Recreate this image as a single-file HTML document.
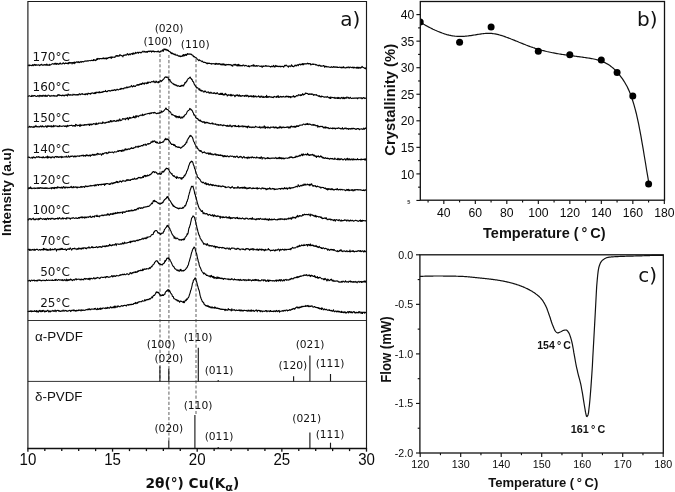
<!DOCTYPE html>
<html lang="en">
<head>
<meta charset="utf-8">
<title>XRD, crystallinity and DSC of PVDF</title>
<style>
html,body{margin:0;padding:0;background:#fff;}
body{width:675px;height:492px;overflow:hidden;}
svg{display:block;}
</style>
</head>
<body>
<svg width="675" height="492" viewBox="0 0 675 492">
<rect x="0" y="0" width="675" height="492" fill="#ffffff"/>
<g stroke="#858585" stroke-width="1.3" stroke-dasharray="3.1 2.0" fill="none">
<line x1="160.0" y1="54" x2="160.0" y2="381.4"/>
<line x1="168.9" y1="55" x2="168.9" y2="440"/>
<line x1="196.0" y1="59" x2="196.0" y2="415"/>
</g>
<g stroke="#000" stroke-width="1.1" fill="none" stroke-linejoin="round">
<polyline points="27.9,312.14 28.3,311.16 28.8,311.39 29.2,311.55 29.7,311.01 30.1,311.36 30.6,311.35 31.0,310.56 31.5,311.80 31.9,311.61 32.4,311.05 32.8,311.25 33.3,311.55 33.7,311.20 34.1,311.20 34.6,310.65 35.0,311.55 35.5,311.35 35.9,311.41 36.4,310.59 36.8,312.02 37.3,311.34 37.7,311.09 38.2,312.17 38.6,311.23 39.1,310.59 39.5,311.05 39.9,310.20 40.4,311.69 40.8,311.02 41.3,310.87 41.7,311.68 42.2,310.45 42.6,311.42 43.1,310.25 43.5,310.87 44.0,310.62 44.4,311.81 44.9,311.94 45.3,310.99 45.7,311.51 46.2,311.04 46.6,311.37 47.1,310.77 47.5,310.33 48.0,310.28 48.4,311.25 48.9,312.08 49.3,311.19 49.8,310.82 50.2,311.91 50.7,311.15 51.1,311.08 51.5,311.14 52.0,310.95 52.4,310.87 52.9,310.35 53.3,311.21 53.8,310.94 54.2,311.51 54.7,310.80 55.1,310.10 55.6,310.90 56.0,311.70 56.5,310.75 56.9,310.52 57.3,310.37 57.8,310.43 58.2,310.76 58.7,310.35 59.1,311.55 59.6,310.74 60.0,310.90 60.5,311.49 60.9,311.51 61.4,310.73 61.8,310.97 62.3,311.14 62.7,310.71 63.1,309.99 63.6,311.07 64.0,311.17 64.5,310.94 64.9,310.33 65.4,310.65 65.8,310.46 66.3,310.58 66.7,311.29 67.2,311.38 67.6,310.98 68.1,310.91 68.5,310.96 68.9,310.64 69.4,310.60 69.8,310.32 70.3,310.58 70.7,311.61 71.2,310.97 71.6,310.41 72.1,310.34 72.5,310.15 73.0,310.70 73.4,310.69 73.8,309.85 74.3,310.70 74.7,310.21 75.2,311.10 75.6,310.51 76.1,311.20 76.5,310.20 77.0,310.26 77.4,310.51 77.9,310.83 78.3,310.59 78.8,309.76 79.2,310.38 79.6,310.29 80.1,310.07 80.5,309.95 81.0,311.00 81.4,310.02 81.9,309.79 82.3,310.43 82.8,310.18 83.2,310.06 83.7,310.42 84.1,310.26 84.6,310.18 85.0,310.42 85.4,310.08 85.9,309.65 86.3,309.73 86.8,309.63 87.2,309.93 87.7,309.31 88.1,308.94 88.6,309.77 89.0,309.10 89.5,308.78 89.9,309.79 90.4,309.27 90.8,309.78 91.2,309.28 91.7,308.97 92.1,308.88 92.6,309.17 93.0,309.24 93.5,308.95 93.9,309.16 94.4,308.55 94.8,309.21 95.3,308.35 95.7,309.03 96.2,309.39 96.6,309.53 97.0,309.76 97.5,308.25 97.9,309.25 98.4,309.40 98.8,309.26 99.3,308.36 99.7,308.91 100.2,309.52 100.6,307.97 101.1,308.81 101.5,309.05 102.0,308.19 102.4,308.72 102.8,307.93 103.3,308.00 103.7,307.95 104.2,308.36 104.6,308.19 105.1,308.61 105.5,307.71 106.0,308.03 106.4,308.47 106.9,308.24 107.3,307.34 107.8,308.19 108.2,307.63 108.6,307.96 109.1,307.88 109.5,308.24 110.0,307.69 110.4,306.75 110.9,306.91 111.3,307.81 111.8,307.31 112.2,307.88 112.7,307.44 113.1,306.92 113.6,307.69 114.0,306.78 114.4,306.16 114.9,307.95 115.3,306.11 115.8,307.19 116.2,307.27 116.7,306.85 117.1,305.97 117.6,307.12 118.0,305.95 118.5,305.93 118.9,306.31 119.4,306.76 119.8,306.47 120.2,306.63 120.7,306.00 121.1,306.06 121.6,305.55 122.0,305.85 122.5,306.19 122.9,305.72 123.4,305.99 123.8,305.45 124.3,305.36 124.7,305.57 125.2,305.39 125.6,305.67 126.0,305.40 126.5,306.03 126.9,305.06 127.4,304.98 127.8,304.53 128.3,304.93 128.7,305.14 129.2,304.41 129.6,304.64 130.1,304.89 130.5,304.42 131.0,304.15 131.4,304.72 131.8,304.23 132.3,304.26 132.7,304.50 133.2,304.38 133.6,303.60 134.1,303.40 134.5,303.64 135.0,303.33 135.4,302.41 135.9,303.71 136.3,303.01 136.8,303.20 137.2,302.20 137.6,303.17 138.1,302.19 138.5,302.27 139.0,301.54 139.4,301.96 139.9,301.79 140.3,301.67 140.8,301.81 141.2,301.50 141.7,301.77 142.1,300.98 142.6,300.61 143.0,300.91 143.4,301.06 143.9,301.20 144.3,300.88 144.8,299.58 145.2,300.41 145.7,300.76 146.1,299.99 146.6,299.59 147.0,299.82 147.5,299.32 147.9,299.69 148.4,299.25 148.8,299.73 149.2,299.18 149.7,298.47 150.1,298.90 150.6,298.87 151.0,297.99 151.5,297.83 151.9,296.72 152.4,297.85 152.8,296.82 153.3,295.71 153.7,295.38 154.2,295.52 154.6,295.35 155.0,294.32 155.5,293.91 155.9,292.57 156.4,291.93 156.8,292.55 157.3,292.22 157.7,292.06 158.2,292.93 158.6,292.36 159.1,293.10 159.5,294.28 159.9,295.13 160.4,294.74 160.8,295.83 161.3,295.05 161.7,295.61 162.2,295.41 162.6,294.70 163.1,295.36 163.5,295.38 164.0,294.53 164.4,294.11 164.9,294.25 165.3,292.48 165.7,291.75 166.2,291.50 166.6,290.65 167.1,291.27 167.5,290.39 168.0,289.63 168.4,289.72 168.9,291.50 169.3,290.36 169.8,290.90 170.2,292.11 170.7,293.06 171.1,293.71 171.5,294.03 172.0,294.73 172.4,296.28 172.9,296.69 173.3,296.62 173.8,298.46 174.2,298.80 174.7,298.80 175.1,299.20 175.6,299.78 176.0,299.68 176.5,299.66 176.9,300.65 177.3,300.07 177.8,301.09 178.2,300.43 178.7,301.18 179.1,301.29 179.6,302.26 180.0,301.07 180.5,300.99 180.9,301.39 181.4,301.22 181.8,301.48 182.3,301.94 182.7,302.08 183.1,302.44 183.6,301.30 184.0,302.73 184.5,302.30 184.9,301.14 185.4,299.98 185.8,300.69 186.3,300.40 186.7,298.90 187.2,299.44 187.6,298.69 188.1,297.68 188.5,297.45 188.9,296.62 189.4,294.81 189.8,293.86 190.3,292.06 190.7,290.47 191.2,289.23 191.6,287.73 192.1,285.50 192.5,283.03 193.0,282.65 193.4,280.20 193.9,279.77 194.3,279.66 194.7,278.43 195.2,277.94 195.6,278.34 196.1,280.48 196.5,281.27 197.0,283.11 197.4,285.06 197.9,286.49 198.3,288.28 198.8,289.86 199.2,290.69 199.7,293.09 200.1,295.32 200.5,296.72 201.0,298.29 201.4,299.22 201.9,300.39 202.3,301.59 202.8,301.64 203.2,302.60 203.7,302.61 204.1,304.29 204.6,304.32 205.0,304.91 205.5,305.72 205.9,305.81 206.3,305.56 206.8,306.18 207.2,305.39 207.7,306.42 208.1,306.46 208.6,305.82 209.0,307.30 209.5,306.52 209.9,307.28 210.4,306.91 210.8,307.66 211.3,307.91 211.7,307.06 212.1,306.85 212.6,307.58 213.0,308.11 213.5,307.66 213.9,307.64 214.4,308.22 214.8,306.85 215.3,307.88 215.7,307.64 216.2,308.47 216.6,308.09 217.1,307.99 217.5,308.41 217.9,307.98 218.4,308.71 218.8,308.48 219.3,308.69 219.7,308.60 220.2,309.40 220.6,309.00 221.1,309.35 221.5,309.39 222.0,308.87 222.4,309.54 222.9,309.50 223.3,309.53 223.7,309.26 224.2,309.30 224.6,309.89 225.1,310.56 225.5,309.25 226.0,309.90 226.4,309.54 226.9,310.09 227.3,309.97 227.8,310.28 228.2,308.58 228.7,309.60 229.1,309.45 229.5,309.88 230.0,309.63 230.4,309.69 230.9,310.31 231.3,310.89 231.8,308.78 232.2,309.94 232.7,310.24 233.1,310.13 233.6,309.99 234.0,309.56 234.5,309.77 234.9,310.54 235.3,310.72 235.8,310.30 236.2,309.90 236.7,310.33 237.1,310.20 237.6,310.57 238.0,310.40 238.5,310.09 238.9,310.47 239.4,309.87 239.8,310.79 240.2,310.97 240.7,309.92 241.1,310.66 241.6,310.04 242.0,310.98 242.5,310.92 242.9,310.42 243.4,310.99 243.8,310.36 244.3,310.28 244.7,310.33 245.2,310.54 245.6,310.47 246.0,310.70 246.5,310.36 246.9,311.00 247.4,311.12 247.8,310.45 248.3,310.05 248.7,311.03 249.2,311.23 249.6,310.65 250.1,310.16 250.5,310.87 251.0,311.45 251.4,309.93 251.8,311.00 252.3,310.66 252.7,310.43 253.2,311.05 253.6,310.25 254.1,310.98 254.5,311.45 255.0,310.95 255.4,310.49 255.9,310.09 256.3,310.33 256.8,310.09 257.2,311.65 257.6,310.83 258.1,310.48 258.5,310.38 259.0,310.50 259.4,310.84 259.9,310.42 260.3,311.77 260.8,310.69 261.2,310.69 261.7,311.19 262.1,311.72 262.6,311.67 263.0,310.87 263.4,311.22 263.9,311.18 264.3,311.37 264.8,311.26 265.2,310.73 265.7,310.60 266.1,311.26 266.6,310.66 267.0,311.82 267.5,311.24 267.9,310.77 268.4,311.10 268.8,311.02 269.2,311.20 269.7,311.70 270.1,310.63 270.6,310.45 271.0,311.45 271.5,311.23 271.9,311.39 272.4,311.52 272.8,311.24 273.3,311.68 273.7,310.92 274.2,311.35 274.6,310.94 275.0,310.80 275.5,311.58 275.9,311.54 276.4,310.39 276.8,310.74 277.3,311.35 277.7,311.67 278.2,310.85 278.6,311.04 279.1,310.44 279.5,312.17 280.0,311.21 280.4,311.36 280.8,311.21 281.3,311.28 281.7,311.09 282.2,310.62 282.6,311.06 283.1,310.71 283.5,311.21 284.0,310.25 284.4,310.29 284.9,310.77 285.3,311.00 285.8,310.43 286.2,309.99 286.6,310.19 287.1,309.96 287.5,310.97 288.0,310.44 288.4,310.53 288.9,310.02 289.3,309.54 289.8,310.23 290.2,310.35 290.7,309.76 291.1,309.38 291.6,309.77 292.0,308.99 292.4,309.39 292.9,308.60 293.3,308.35 293.8,308.92 294.2,308.69 294.7,309.27 295.1,308.15 295.6,308.17 296.0,307.52 296.5,307.07 296.9,306.99 297.4,307.88 297.8,307.03 298.2,307.96 298.7,307.98 299.1,307.11 299.6,307.88 300.0,307.14 300.5,307.44 300.9,306.74 301.4,307.17 301.8,306.23 302.3,306.84 302.7,306.27 303.2,306.34 303.6,306.60 304.0,306.33 304.5,306.15 304.9,306.46 305.4,306.45 305.8,305.42 306.3,306.27 306.7,306.30 307.2,305.65 307.6,306.17 308.1,305.41 308.5,306.67 309.0,305.95 309.4,306.06 309.8,306.69 310.3,306.14 310.7,306.53 311.2,305.86 311.6,306.15 312.1,305.86 312.5,306.47 313.0,307.11 313.4,306.84 313.9,307.22 314.3,306.46 314.8,306.61 315.2,306.89 315.6,307.46 316.1,307.46 316.5,307.39 317.0,307.78 317.4,307.53 317.9,307.70 318.3,308.41 318.8,307.67 319.2,308.13 319.7,308.89 320.1,308.33 320.6,308.72 321.0,308.25 321.4,309.52 321.9,307.75 322.3,308.37 322.8,308.53 323.2,309.85 323.7,309.39 324.1,309.23 324.6,308.88 325.0,309.73 325.5,309.72 325.9,309.46 326.3,309.19 326.8,309.46 327.2,310.14 327.7,310.27 328.1,310.25 328.6,310.23 329.0,309.58 329.5,310.48 329.9,310.07 330.4,310.63 330.8,310.89 331.3,310.45 331.7,310.37 332.1,311.35 332.6,311.13 333.0,310.75 333.5,309.75 333.9,311.15 334.4,311.52 334.8,311.80 335.3,311.05 335.7,311.13 336.2,311.28 336.6,311.91 337.1,311.06 337.5,311.59 337.9,311.27 338.4,311.86 338.8,311.08 339.3,311.99 339.7,311.64 340.2,311.80 340.6,312.17 341.1,312.48 341.5,311.23 342.0,312.47 342.4,312.30 342.9,311.94 343.3,312.72 343.7,312.20 344.2,312.71 344.6,311.88 345.1,311.77 345.5,312.73 346.0,313.17 346.4,312.50 346.9,312.63 347.3,312.03 347.8,311.66 348.2,312.17 348.7,312.96 349.1,311.46 349.5,312.09 350.0,311.46 350.4,312.39 350.9,312.75 351.3,311.80 351.8,312.19 352.2,312.98 352.7,312.36 353.1,311.85 353.6,311.83 354.0,311.53 354.5,312.79 354.9,312.12 355.3,312.93 355.8,312.86 356.2,312.18 356.7,312.25 357.1,312.85 357.6,312.57 358.0,312.63 358.5,311.78 358.9,312.93 359.4,312.14 359.8,311.52 360.3,312.27 360.7,312.74 361.1,313.50 361.6,312.39 362.0,311.96 362.5,313.52 362.9,312.64 363.4,312.46 363.8,312.09 364.3,312.13 364.7,313.25 365.2,312.46 365.6,312.34 366.1,312.36 366.5,313.29"/>
<polyline points="27.9,280.36 28.3,280.91 28.8,280.74 29.2,280.72 29.7,280.22 30.1,280.90 30.6,281.33 31.0,280.57 31.5,280.18 31.9,280.01 32.4,280.67 32.8,280.45 33.3,280.52 33.7,280.57 34.1,279.89 34.6,280.90 35.0,280.65 35.5,280.50 35.9,280.64 36.4,280.94 36.8,280.54 37.3,280.13 37.7,281.03 38.2,280.30 38.6,280.16 39.1,279.78 39.5,280.48 39.9,280.00 40.4,280.23 40.8,280.66 41.3,280.46 41.7,280.90 42.2,280.57 42.6,280.24 43.1,280.27 43.5,280.18 44.0,280.69 44.4,280.40 44.9,280.20 45.3,280.75 45.7,280.41 46.2,280.15 46.6,279.67 47.1,280.54 47.5,280.44 48.0,280.35 48.4,280.12 48.9,279.93 49.3,280.20 49.8,280.39 50.2,280.22 50.7,280.21 51.1,280.05 51.5,280.40 52.0,280.35 52.4,279.90 52.9,280.57 53.3,280.57 53.8,280.57 54.2,280.14 54.7,280.10 55.1,279.66 55.6,280.51 56.0,279.20 56.5,279.97 56.9,279.99 57.3,280.52 57.8,280.12 58.2,279.68 58.7,279.46 59.1,279.76 59.6,280.13 60.0,280.10 60.5,279.97 60.9,279.74 61.4,279.94 61.8,280.48 62.3,279.52 62.7,280.02 63.1,280.72 63.6,280.23 64.0,279.77 64.5,280.26 64.9,279.61 65.4,279.94 65.8,280.63 66.3,280.77 66.7,279.13 67.2,280.21 67.6,280.75 68.1,279.62 68.5,279.97 68.9,280.52 69.4,279.60 69.8,280.01 70.3,279.77 70.7,278.92 71.2,279.92 71.6,279.67 72.1,280.16 72.5,280.67 73.0,280.02 73.4,279.53 73.8,279.88 74.3,279.75 74.7,280.11 75.2,278.98 75.6,279.09 76.1,278.67 76.5,279.85 77.0,279.55 77.4,279.25 77.9,279.19 78.3,279.24 78.8,279.06 79.2,279.31 79.6,279.21 80.1,280.04 80.5,279.54 81.0,279.00 81.4,279.08 81.9,279.86 82.3,279.49 82.8,279.40 83.2,279.56 83.7,279.92 84.1,278.63 84.6,278.81 85.0,278.33 85.4,279.30 85.9,278.88 86.3,278.71 86.8,278.64 87.2,279.25 87.7,278.84 88.1,278.63 88.6,279.40 89.0,278.32 89.5,278.19 89.9,279.88 90.4,278.51 90.8,278.39 91.2,278.27 91.7,278.49 92.1,278.86 92.6,278.81 93.0,278.67 93.5,278.26 93.9,277.67 94.4,278.42 94.8,278.93 95.3,278.68 95.7,278.08 96.2,278.47 96.6,277.89 97.0,277.99 97.5,277.42 97.9,277.78 98.4,277.94 98.8,277.75 99.3,278.13 99.7,278.58 100.2,278.28 100.6,277.50 101.1,277.26 101.5,277.24 102.0,277.05 102.4,277.45 102.8,277.58 103.3,277.42 103.7,277.38 104.2,277.31 104.6,277.13 105.1,276.80 105.5,277.86 106.0,277.51 106.4,276.57 106.9,276.52 107.3,276.61 107.8,276.84 108.2,277.34 108.6,277.17 109.1,277.14 109.5,277.09 110.0,277.05 110.4,276.82 110.9,276.64 111.3,276.32 111.8,275.53 112.2,276.20 112.7,277.01 113.1,275.90 113.6,275.80 114.0,276.48 114.4,275.99 114.9,275.68 115.3,276.53 115.8,276.05 116.2,276.04 116.7,275.38 117.1,275.79 117.6,275.67 118.0,275.79 118.5,275.89 118.9,275.81 119.4,275.31 119.8,275.47 120.2,274.58 120.7,275.31 121.1,275.25 121.6,274.70 122.0,274.45 122.5,274.70 122.9,274.11 123.4,274.73 123.8,274.63 124.3,274.00 124.7,274.37 125.2,274.75 125.6,274.66 126.0,274.56 126.5,273.96 126.9,273.79 127.4,273.68 127.8,274.04 128.3,274.75 128.7,274.24 129.2,274.23 129.6,274.03 130.1,272.61 130.5,273.15 131.0,272.96 131.4,273.62 131.8,273.71 132.3,272.55 132.7,272.76 133.2,272.89 133.6,272.31 134.1,272.13 134.5,271.99 135.0,272.58 135.4,271.65 135.9,272.45 136.3,271.85 136.8,272.02 137.2,272.25 137.6,271.12 138.1,270.92 138.5,271.35 139.0,270.56 139.4,270.56 139.9,270.71 140.3,270.70 140.8,269.93 141.2,270.19 141.7,270.49 142.1,270.70 142.6,269.09 143.0,270.43 143.4,270.11 143.9,269.09 144.3,268.79 144.8,269.51 145.2,269.00 145.7,269.12 146.1,269.31 146.6,268.63 147.0,268.73 147.5,268.73 147.9,268.77 148.4,269.02 148.8,268.84 149.2,268.02 149.7,267.63 150.1,268.60 150.6,267.60 151.0,267.25 151.5,266.27 151.9,266.76 152.4,265.65 152.8,265.32 153.3,264.38 153.7,264.15 154.2,263.77 154.6,262.40 155.0,262.04 155.5,261.84 155.9,260.90 156.4,260.70 156.8,260.92 157.3,260.90 157.7,262.21 158.2,261.99 158.6,263.30 159.1,263.88 159.5,263.37 159.9,264.29 160.4,264.33 160.8,264.21 161.3,264.63 161.7,264.64 162.2,264.92 162.6,264.81 163.1,263.50 163.5,263.37 164.0,263.26 164.4,262.94 164.9,260.64 165.3,261.59 165.7,260.21 166.2,260.27 166.6,258.75 167.1,258.06 167.5,258.14 168.0,258.57 168.4,258.23 168.9,257.59 169.3,259.58 169.8,259.33 170.2,260.49 170.7,261.32 171.1,261.94 171.5,263.09 172.0,264.05 172.4,264.99 172.9,265.96 173.3,266.47 173.8,266.52 174.2,267.61 174.7,268.57 175.1,268.95 175.6,268.92 176.0,269.44 176.5,269.82 176.9,270.26 177.3,270.62 177.8,269.89 178.2,270.07 178.7,270.99 179.1,271.14 179.6,271.23 180.0,269.56 180.5,270.57 180.9,269.24 181.4,271.05 181.8,270.75 182.3,270.71 182.7,270.57 183.1,271.13 183.6,270.28 184.0,270.71 184.5,270.27 184.9,269.89 185.4,269.58 185.8,268.98 186.3,267.90 186.7,268.07 187.2,267.31 187.6,266.04 188.1,265.42 188.5,264.34 188.9,262.06 189.4,261.15 189.8,259.46 190.3,257.60 190.7,256.43 191.2,254.15 191.6,252.60 192.1,251.26 192.5,249.84 193.0,248.64 193.4,248.67 193.9,247.04 194.3,247.47 194.7,247.38 195.2,249.13 195.6,250.79 196.1,252.44 196.5,253.41 197.0,255.46 197.4,258.06 197.9,259.33 198.3,261.61 198.8,262.44 199.2,265.08 199.7,266.36 200.1,267.42 200.5,268.02 201.0,269.35 201.4,270.40 201.9,271.25 202.3,271.78 202.8,272.33 203.2,273.03 203.7,274.03 204.1,272.89 204.6,273.51 205.0,273.73 205.5,274.38 205.9,274.14 206.3,275.39 206.8,275.37 207.2,275.39 207.7,275.36 208.1,275.89 208.6,276.04 209.0,276.24 209.5,275.89 209.9,276.63 210.4,275.79 210.8,277.12 211.3,275.28 211.7,276.50 212.1,276.32 212.6,277.31 213.0,276.38 213.5,277.96 213.9,276.53 214.4,278.22 214.8,277.60 215.3,277.49 215.7,277.75 216.2,278.62 216.6,278.11 217.1,276.78 217.5,278.39 217.9,278.03 218.4,277.27 218.8,278.41 219.3,277.59 219.7,278.28 220.2,278.37 220.6,278.03 221.1,278.68 221.5,277.99 222.0,278.59 222.4,278.31 222.9,278.53 223.3,279.53 223.7,278.77 224.2,278.27 224.6,278.76 225.1,278.51 225.5,278.91 226.0,279.01 226.4,279.01 226.9,279.05 227.3,278.80 227.8,279.28 228.2,279.59 228.7,278.87 229.1,279.15 229.5,279.23 230.0,279.80 230.4,279.75 230.9,278.96 231.3,279.35 231.8,278.67 232.2,278.93 232.7,279.40 233.1,279.70 233.6,279.87 234.0,279.32 234.5,278.88 234.9,279.69 235.3,279.45 235.8,279.74 236.2,279.64 236.7,279.92 237.1,279.91 237.6,280.01 238.0,279.45 238.5,280.12 238.9,279.47 239.4,279.75 239.8,280.57 240.2,279.91 240.7,279.24 241.1,280.45 241.6,280.25 242.0,280.33 242.5,279.92 242.9,280.00 243.4,279.76 243.8,279.56 244.3,280.58 244.7,279.74 245.2,279.71 245.6,279.74 246.0,280.79 246.5,280.36 246.9,279.82 247.4,279.98 247.8,280.24 248.3,280.42 248.7,279.32 249.2,280.46 249.6,279.97 250.1,279.77 250.5,279.92 251.0,280.46 251.4,280.91 251.8,280.20 252.3,280.40 252.7,279.79 253.2,280.39 253.6,280.55 254.1,279.53 254.5,279.98 255.0,280.58 255.4,279.44 255.9,280.08 256.3,280.53 256.8,279.51 257.2,280.11 257.6,280.32 258.1,280.71 258.5,279.75 259.0,280.83 259.4,280.49 259.9,280.90 260.3,280.90 260.8,280.54 261.2,280.62 261.7,279.63 262.1,279.82 262.6,279.99 263.0,280.30 263.4,280.89 263.9,279.68 264.3,280.35 264.8,279.92 265.2,279.82 265.7,281.20 266.1,280.60 266.6,281.30 267.0,281.11 267.5,280.17 267.9,279.77 268.4,281.54 268.8,280.44 269.2,280.12 269.7,280.96 270.1,280.72 270.6,280.36 271.0,280.52 271.5,280.75 271.9,280.72 272.4,281.03 272.8,280.54 273.3,280.55 273.7,280.97 274.2,280.84 274.6,281.19 275.0,280.58 275.5,280.64 275.9,280.16 276.4,281.34 276.8,280.03 277.3,280.73 277.7,280.21 278.2,280.74 278.6,280.90 279.1,279.80 279.5,280.41 280.0,279.68 280.4,281.07 280.8,280.20 281.3,279.65 281.7,280.01 282.2,280.87 282.6,280.91 283.1,280.77 283.5,279.80 284.0,280.04 284.4,280.80 284.9,279.69 285.3,279.82 285.8,279.48 286.2,279.33 286.6,280.34 287.1,280.02 287.5,279.88 288.0,279.87 288.4,280.00 288.9,280.14 289.3,279.38 289.8,279.14 290.2,278.74 290.7,279.59 291.1,278.77 291.6,278.22 292.0,278.66 292.4,278.67 292.9,278.92 293.3,278.86 293.8,277.95 294.2,277.79 294.7,277.87 295.1,277.33 295.6,277.69 296.0,277.82 296.5,277.50 296.9,276.62 297.4,276.68 297.8,277.67 298.2,276.52 298.7,277.19 299.1,277.02 299.6,276.48 300.0,276.07 300.5,276.50 300.9,275.91 301.4,276.12 301.8,276.15 302.3,275.68 302.7,275.81 303.2,275.68 303.6,275.18 304.0,275.58 304.5,275.31 304.9,274.71 305.4,275.33 305.8,275.31 306.3,275.14 306.7,274.46 307.2,275.73 307.6,275.69 308.1,275.69 308.5,275.57 309.0,274.89 309.4,275.55 309.8,275.13 310.3,276.60 310.7,275.45 311.2,276.06 311.6,275.14 312.1,275.39 312.5,275.77 313.0,276.42 313.4,276.44 313.9,276.42 314.3,275.55 314.8,277.00 315.2,276.17 315.6,277.42 316.1,277.64 316.5,277.28 317.0,277.47 317.4,276.57 317.9,278.42 318.3,277.47 318.8,277.95 319.2,277.24 319.7,277.72 320.1,277.34 320.6,277.90 321.0,278.14 321.4,278.37 321.9,279.01 322.3,278.73 322.8,278.74 323.2,278.77 323.7,279.77 324.1,278.72 324.6,279.62 325.0,278.31 325.5,278.90 325.9,279.57 326.3,279.41 326.8,280.93 327.2,280.82 327.7,279.06 328.1,279.35 328.6,279.85 329.0,280.78 329.5,280.58 329.9,280.30 330.4,279.59 330.8,279.92 331.3,279.17 331.7,279.76 332.1,280.71 332.6,280.95 333.0,280.07 333.5,280.78 333.9,281.52 334.4,280.93 334.8,280.77 335.3,281.24 335.7,281.26 336.2,281.11 336.6,280.88 337.1,280.98 337.5,281.26 337.9,281.01 338.4,281.89 338.8,281.73 339.3,281.85 339.7,282.30 340.2,282.12 340.6,282.08 341.1,281.63 341.5,281.39 342.0,282.53 342.4,281.21 342.9,281.26 343.3,281.16 343.7,281.66 344.2,281.77 344.6,282.06 345.1,281.51 345.5,280.84 346.0,281.78 346.4,282.09 346.9,281.68 347.3,281.62 347.8,281.94 348.2,282.35 348.7,281.68 349.1,281.09 349.5,281.48 350.0,281.67 350.4,280.95 350.9,282.11 351.3,281.43 351.8,282.02 352.2,281.89 352.7,281.67 353.1,282.55 353.6,281.57 354.0,281.53 354.5,281.98 354.9,282.23 355.3,281.86 355.8,281.43 356.2,282.19 356.7,282.15 357.1,282.82 357.6,281.80 358.0,282.00 358.5,281.65 358.9,281.24 359.4,281.95 359.8,282.31 360.3,281.47 360.7,281.63 361.1,281.41 361.6,282.54 362.0,281.66 362.5,282.21 362.9,281.56 363.4,281.99 363.8,281.67 364.3,280.90 364.7,281.99 365.2,282.20 365.6,281.02 366.1,281.88 366.5,281.77"/>
<polyline points="27.9,249.39 28.3,249.76 28.8,249.00 29.2,249.98 29.7,250.39 30.1,249.29 30.6,249.82 31.0,250.49 31.5,249.90 31.9,249.60 32.4,249.42 32.8,249.90 33.3,249.76 33.7,250.10 34.1,249.12 34.6,250.28 35.0,249.61 35.5,250.07 35.9,249.45 36.4,249.19 36.8,249.51 37.3,249.33 37.7,249.58 38.2,250.04 38.6,250.22 39.1,249.82 39.5,249.48 39.9,249.51 40.4,249.97 40.8,250.21 41.3,249.54 41.7,249.63 42.2,249.34 42.6,249.76 43.1,250.09 43.5,248.34 44.0,249.76 44.4,249.38 44.9,248.58 45.3,249.76 45.7,249.57 46.2,249.76 46.6,248.97 47.1,250.54 47.5,249.62 48.0,249.41 48.4,250.24 48.9,249.84 49.3,249.91 49.8,250.05 50.2,248.58 50.7,250.26 51.1,249.34 51.5,249.61 52.0,249.89 52.4,249.15 52.9,249.60 53.3,249.79 53.8,249.42 54.2,249.65 54.7,248.69 55.1,248.87 55.6,248.88 56.0,249.55 56.5,251.06 56.9,249.49 57.3,249.29 57.8,249.32 58.2,249.78 58.7,249.65 59.1,248.80 59.6,249.76 60.0,249.28 60.5,249.65 60.9,248.37 61.4,248.56 61.8,249.52 62.3,248.43 62.7,249.40 63.1,249.37 63.6,249.27 64.0,249.35 64.5,249.30 64.9,249.37 65.4,248.97 65.8,249.13 66.3,250.44 66.7,249.62 67.2,249.37 67.6,249.26 68.1,248.74 68.5,249.16 68.9,248.93 69.4,249.45 69.8,248.60 70.3,247.94 70.7,248.73 71.2,249.28 71.6,250.06 72.1,249.40 72.5,248.48 73.0,248.81 73.4,248.46 73.8,248.79 74.3,248.45 74.7,248.10 75.2,249.02 75.6,248.89 76.1,248.70 76.5,248.92 77.0,249.66 77.4,248.77 77.9,248.53 78.3,249.07 78.8,247.92 79.2,248.97 79.6,248.26 80.1,248.22 80.5,248.61 81.0,249.29 81.4,248.18 81.9,248.91 82.3,248.62 82.8,247.80 83.2,248.81 83.7,247.99 84.1,247.67 84.6,247.94 85.0,247.94 85.4,248.49 85.9,247.86 86.3,248.83 86.8,248.22 87.2,247.76 87.7,247.67 88.1,248.10 88.6,247.05 89.0,246.94 89.5,247.48 89.9,248.12 90.4,247.87 90.8,247.76 91.2,247.61 91.7,246.68 92.1,247.47 92.6,246.77 93.0,247.90 93.5,247.47 93.9,247.39 94.4,247.56 94.8,247.48 95.3,247.39 95.7,247.39 96.2,246.92 96.6,246.54 97.0,247.24 97.5,247.69 97.9,247.44 98.4,246.84 98.8,247.16 99.3,246.64 99.7,246.96 100.2,246.46 100.6,246.74 101.1,247.53 101.5,246.92 102.0,247.20 102.4,246.12 102.8,246.11 103.3,246.35 103.7,246.56 104.2,246.17 104.6,246.66 105.1,245.90 105.5,246.71 106.0,246.48 106.4,245.49 106.9,246.19 107.3,245.78 107.8,246.28 108.2,245.52 108.6,245.84 109.1,245.89 109.5,244.35 110.0,244.68 110.4,245.52 110.9,245.35 111.3,245.80 111.8,245.38 112.2,244.65 112.7,245.31 113.1,244.76 113.6,244.93 114.0,244.74 114.4,245.06 114.9,244.19 115.3,244.26 115.8,243.70 116.2,245.60 116.7,244.11 117.1,244.11 117.6,243.90 118.0,244.06 118.5,244.09 118.9,244.49 119.4,244.22 119.8,244.21 120.2,243.73 120.7,243.89 121.1,244.39 121.6,243.76 122.0,243.83 122.5,242.70 122.9,243.77 123.4,243.58 123.8,243.96 124.3,242.06 124.7,243.23 125.2,243.08 125.6,243.09 126.0,242.69 126.5,242.98 126.9,243.12 127.4,242.74 127.8,242.50 128.3,242.45 128.7,242.28 129.2,242.39 129.6,241.96 130.1,241.29 130.5,242.71 131.0,241.21 131.4,241.85 131.8,241.22 132.3,241.58 132.7,241.17 133.2,241.48 133.6,241.01 134.1,240.69 134.5,241.30 135.0,241.65 135.4,241.09 135.9,240.86 136.3,240.21 136.8,240.53 137.2,240.64 137.6,240.02 138.1,240.59 138.5,240.04 139.0,240.10 139.4,239.59 139.9,239.46 140.3,239.65 140.8,239.60 141.2,239.46 141.7,238.72 142.1,238.72 142.6,238.92 143.0,237.97 143.4,239.15 143.9,238.70 144.3,238.45 144.8,237.98 145.2,238.55 145.7,237.93 146.1,238.78 146.6,237.97 147.0,236.98 147.5,237.84 147.9,237.13 148.4,236.98 148.8,236.94 149.2,236.81 149.7,236.77 150.1,236.77 150.6,236.36 151.0,235.51 151.5,234.86 151.9,234.67 152.4,234.70 152.8,234.37 153.3,234.18 153.7,232.12 154.2,232.12 154.6,231.38 155.0,230.81 155.5,230.73 155.9,230.46 156.4,230.57 156.8,230.71 157.3,231.62 157.7,232.42 158.2,233.19 158.6,232.69 159.1,232.85 159.5,233.53 159.9,233.49 160.4,234.46 160.8,233.64 161.3,233.95 161.7,233.12 162.2,233.27 162.6,233.11 163.1,233.20 163.5,231.60 164.0,231.39 164.4,229.52 164.9,229.09 165.3,228.42 165.7,227.72 166.2,227.36 166.6,226.81 167.1,225.34 167.5,226.11 168.0,225.46 168.4,227.16 168.9,227.11 169.3,227.85 169.8,228.65 170.2,229.72 170.7,230.76 171.1,231.45 171.5,233.04 172.0,233.71 172.4,234.73 172.9,235.09 173.3,236.07 173.8,235.99 174.2,238.43 174.7,236.94 175.1,237.44 175.6,238.41 176.0,238.82 176.5,238.16 176.9,238.00 177.3,238.31 177.8,238.66 178.2,238.90 178.7,239.31 179.1,239.95 179.6,240.06 180.0,239.36 180.5,239.91 180.9,240.08 181.4,240.31 181.8,239.57 182.3,239.23 182.7,239.79 183.1,239.99 183.6,238.86 184.0,239.71 184.5,239.28 184.9,237.97 185.4,236.88 185.8,236.70 186.3,236.09 186.7,235.63 187.2,233.66 187.6,234.38 188.1,233.08 188.5,230.30 188.9,228.25 189.4,227.37 189.8,225.91 190.3,224.55 190.7,222.49 191.2,220.37 191.6,218.02 192.1,217.83 192.5,217.00 193.0,215.93 193.4,216.12 193.9,216.49 194.3,217.16 194.7,218.01 195.2,220.25 195.6,221.23 196.1,224.39 196.5,225.29 197.0,227.83 197.4,229.13 197.9,231.39 198.3,232.77 198.8,234.61 199.2,235.39 199.7,236.24 200.1,237.94 200.5,238.88 201.0,239.20 201.4,240.31 201.9,240.51 202.3,241.86 202.8,242.12 203.2,242.72 203.7,244.24 204.1,243.46 204.6,243.84 205.0,244.20 205.5,244.08 205.9,244.08 206.3,244.92 206.8,245.16 207.2,243.54 207.7,244.93 208.1,244.99 208.6,245.02 209.0,245.95 209.5,245.27 209.9,246.01 210.4,245.49 210.8,245.65 211.3,246.26 211.7,245.70 212.1,246.05 212.6,245.72 213.0,245.91 213.5,246.72 213.9,246.74 214.4,246.04 214.8,246.11 215.3,247.87 215.7,246.51 216.2,246.48 216.6,247.18 217.1,246.67 217.5,246.93 217.9,247.57 218.4,247.68 218.8,247.21 219.3,247.97 219.7,247.37 220.2,247.39 220.6,247.55 221.1,247.48 221.5,247.91 222.0,247.86 222.4,247.44 222.9,247.92 223.3,247.65 223.7,247.68 224.2,247.93 224.6,248.50 225.1,248.21 225.5,248.70 226.0,248.87 226.4,248.19 226.9,247.97 227.3,247.93 227.8,248.44 228.2,248.74 228.7,249.10 229.1,247.83 229.5,248.86 230.0,248.96 230.4,249.60 230.9,248.62 231.3,248.55 231.8,247.91 232.2,248.27 232.7,248.15 233.1,248.21 233.6,248.29 234.0,248.03 234.5,248.70 234.9,248.94 235.3,249.13 235.8,248.77 236.2,249.31 236.7,249.34 237.1,248.20 237.6,248.78 238.0,248.36 238.5,248.51 238.9,249.05 239.4,248.93 239.8,249.66 240.2,249.95 240.7,249.23 241.1,248.98 241.6,249.02 242.0,249.10 242.5,249.38 242.9,248.81 243.4,249.42 243.8,249.06 244.3,249.67 244.7,249.82 245.2,250.01 245.6,249.17 246.0,248.65 246.5,248.51 246.9,249.16 247.4,248.67 247.8,248.58 248.3,249.18 248.7,248.91 249.2,249.68 249.6,250.25 250.1,249.29 250.5,249.55 251.0,248.71 251.4,249.52 251.8,249.14 252.3,248.97 252.7,248.64 253.2,250.22 253.6,248.78 254.1,248.98 254.5,249.54 255.0,249.68 255.4,249.70 255.9,249.63 256.3,249.19 256.8,249.95 257.2,249.71 257.6,248.98 258.1,250.37 258.5,249.51 259.0,250.10 259.4,249.03 259.9,249.17 260.3,249.46 260.8,249.42 261.2,250.20 261.7,249.03 262.1,249.85 262.6,249.33 263.0,250.04 263.4,249.91 263.9,249.58 264.3,250.85 264.8,249.84 265.2,250.37 265.7,249.29 266.1,249.85 266.6,249.96 267.0,249.99 267.5,249.79 267.9,249.58 268.4,248.58 268.8,249.73 269.2,249.58 269.7,249.89 270.1,250.40 270.6,251.02 271.0,250.27 271.5,250.50 271.9,250.33 272.4,250.38 272.8,250.33 273.3,249.95 273.7,249.92 274.2,250.22 274.6,250.88 275.0,250.42 275.5,250.79 275.9,249.47 276.4,250.17 276.8,250.22 277.3,250.26 277.7,249.39 278.2,249.16 278.6,249.02 279.1,249.77 279.5,250.98 280.0,250.00 280.4,249.33 280.8,249.99 281.3,249.67 281.7,249.85 282.2,249.54 282.6,249.13 283.1,249.43 283.5,249.96 284.0,249.73 284.4,250.10 284.9,249.03 285.3,249.94 285.8,249.45 286.2,249.46 286.6,249.88 287.1,249.20 287.5,249.32 288.0,249.43 288.4,249.37 288.9,249.37 289.3,249.51 289.8,249.09 290.2,248.57 290.7,249.78 291.1,248.57 291.6,248.65 292.0,248.04 292.4,247.28 292.9,247.79 293.3,248.04 293.8,248.12 294.2,247.76 294.7,247.97 295.1,247.91 295.6,247.77 296.0,247.19 296.5,247.08 296.9,246.81 297.4,246.37 297.8,247.28 298.2,245.94 298.7,246.34 299.1,246.35 299.6,245.17 300.0,246.34 300.5,245.74 300.9,245.88 301.4,245.52 301.8,244.87 302.3,245.55 302.7,245.41 303.2,245.71 303.6,245.39 304.0,244.34 304.5,245.52 304.9,245.31 305.4,245.24 305.8,245.07 306.3,244.50 306.7,245.04 307.2,244.62 307.6,246.09 308.1,244.70 308.5,244.33 309.0,244.71 309.4,245.56 309.8,244.72 310.3,243.94 310.7,245.77 311.2,245.34 311.6,245.06 312.1,245.69 312.5,245.05 313.0,245.03 313.4,246.09 313.9,245.53 314.3,246.11 314.8,245.98 315.2,246.46 315.6,246.25 316.1,245.39 316.5,246.74 317.0,246.34 317.4,247.08 317.9,246.86 318.3,247.58 318.8,246.93 319.2,246.28 319.7,247.19 320.1,247.70 320.6,247.45 321.0,247.53 321.4,248.53 321.9,247.93 322.3,248.59 322.8,248.31 323.2,247.71 323.7,248.05 324.1,248.44 324.6,248.83 325.0,248.43 325.5,248.26 325.9,248.53 326.3,248.84 326.8,248.77 327.2,249.00 327.7,250.18 328.1,249.55 328.6,249.14 329.0,249.59 329.5,250.38 329.9,250.04 330.4,249.78 330.8,249.29 331.3,249.21 331.7,249.90 332.1,250.07 332.6,249.46 333.0,249.65 333.5,250.30 333.9,249.38 334.4,249.65 334.8,250.46 335.3,250.79 335.7,250.72 336.2,251.07 336.6,251.38 337.1,251.11 337.5,250.62 337.9,251.73 338.4,251.55 338.8,251.24 339.3,250.48 339.7,251.05 340.2,249.94 340.6,250.75 341.1,249.80 341.5,250.75 342.0,251.41 342.4,250.97 342.9,251.71 343.3,250.99 343.7,251.05 344.2,250.89 344.6,251.27 345.1,251.03 345.5,251.60 346.0,251.80 346.4,251.25 346.9,250.59 347.3,251.36 347.8,251.73 348.2,251.43 348.7,251.28 349.1,251.58 349.5,251.76 350.0,250.00 350.4,251.87 350.9,251.54 351.3,251.42 351.8,250.96 352.2,251.32 352.7,251.50 353.1,250.57 353.6,251.58 354.0,251.29 354.5,251.92 354.9,251.57 355.3,251.20 355.8,251.31 356.2,251.58 356.7,251.36 357.1,251.55 357.6,250.99 358.0,250.75 358.5,251.06 358.9,250.68 359.4,250.98 359.8,251.49 360.3,250.60 360.7,250.78 361.1,251.67 361.6,251.11 362.0,251.34 362.5,250.79 362.9,250.88 363.4,251.22 363.8,252.09 364.3,251.56 364.7,250.61 365.2,251.56 365.6,251.78 366.1,251.67 366.5,250.81"/>
<polyline points="27.9,219.12 28.3,220.11 28.8,218.73 29.2,219.29 29.7,218.80 30.1,218.56 30.6,218.93 31.0,219.59 31.5,219.64 31.9,218.72 32.4,218.89 32.8,218.70 33.3,218.16 33.7,219.36 34.1,219.78 34.6,219.75 35.0,218.86 35.5,219.66 35.9,219.54 36.4,218.89 36.8,219.04 37.3,218.87 37.7,219.13 38.2,219.83 38.6,218.59 39.1,218.46 39.5,219.39 39.9,219.01 40.4,218.13 40.8,218.51 41.3,218.59 41.7,218.68 42.2,219.09 42.6,219.38 43.1,218.85 43.5,218.98 44.0,218.57 44.4,219.36 44.9,219.49 45.3,218.76 45.7,218.54 46.2,219.79 46.6,219.27 47.1,218.44 47.5,218.07 48.0,218.69 48.4,219.35 48.9,218.56 49.3,218.68 49.8,218.56 50.2,219.07 50.7,219.39 51.1,218.19 51.5,218.61 52.0,218.64 52.4,218.44 52.9,218.17 53.3,219.07 53.8,218.76 54.2,219.00 54.7,219.35 55.1,218.49 55.6,218.89 56.0,218.45 56.5,218.58 56.9,218.76 57.3,218.53 57.8,217.91 58.2,219.26 58.7,218.63 59.1,218.04 59.6,217.55 60.0,218.52 60.5,218.81 60.9,218.96 61.4,219.00 61.8,218.31 62.3,218.76 62.7,217.76 63.1,218.51 63.6,218.84 64.0,218.14 64.5,218.33 64.9,218.43 65.4,218.43 65.8,219.03 66.3,217.86 66.7,218.93 67.2,217.75 67.6,218.00 68.1,217.93 68.5,218.23 68.9,218.03 69.4,218.45 69.8,218.22 70.3,219.19 70.7,218.36 71.2,218.05 71.6,218.32 72.1,218.40 72.5,218.03 73.0,217.59 73.4,217.71 73.8,218.14 74.3,218.41 74.7,218.23 75.2,217.96 75.6,218.23 76.1,217.73 76.5,218.05 77.0,218.55 77.4,218.39 77.9,218.48 78.3,217.67 78.8,217.91 79.2,217.34 79.6,218.18 80.1,217.55 80.5,217.11 81.0,217.46 81.4,217.76 81.9,216.62 82.3,216.95 82.8,218.00 83.2,217.56 83.7,217.46 84.1,216.72 84.6,218.12 85.0,217.83 85.4,217.65 85.9,216.79 86.3,217.51 86.8,217.72 87.2,217.02 87.7,217.01 88.1,216.86 88.6,217.30 89.0,216.88 89.5,216.79 89.9,216.23 90.4,216.09 90.8,217.21 91.2,217.45 91.7,217.08 92.1,217.28 92.6,216.34 93.0,216.51 93.5,216.65 93.9,216.35 94.4,217.13 94.8,215.72 95.3,216.01 95.7,216.05 96.2,215.84 96.6,216.48 97.0,215.15 97.5,216.50 97.9,216.34 98.4,216.02 98.8,216.45 99.3,216.82 99.7,215.79 100.2,215.98 100.6,215.77 101.1,215.77 101.5,215.25 102.0,215.09 102.4,215.63 102.8,215.07 103.3,215.66 103.7,215.54 104.2,214.93 104.6,215.23 105.1,215.04 105.5,214.89 106.0,215.40 106.4,214.85 106.9,214.87 107.3,213.83 107.8,214.91 108.2,213.93 108.6,214.34 109.1,215.17 109.5,215.19 110.0,214.14 110.4,213.69 110.9,214.36 111.3,213.94 111.8,214.20 112.2,213.37 112.7,214.41 113.1,214.54 113.6,213.12 114.0,213.35 114.4,213.31 114.9,213.88 115.3,212.59 115.8,213.50 116.2,213.23 116.7,212.90 117.1,213.50 117.6,212.23 118.0,212.41 118.5,212.60 118.9,213.19 119.4,212.64 119.8,212.34 120.2,212.85 120.7,212.34 121.1,212.19 121.6,212.26 122.0,212.47 122.5,213.45 122.9,211.66 123.4,212.19 123.8,211.92 124.3,211.79 124.7,212.50 125.2,212.08 125.6,211.95 126.0,211.36 126.5,211.10 126.9,211.52 127.4,211.17 127.8,210.96 128.3,211.43 128.7,210.50 129.2,210.62 129.6,211.21 130.1,210.73 130.5,210.97 131.0,210.19 131.4,210.80 131.8,210.06 132.3,210.89 132.7,210.54 133.2,210.29 133.6,210.66 134.1,210.02 134.5,209.47 135.0,210.35 135.4,209.69 135.9,209.97 136.3,209.38 136.8,209.72 137.2,208.69 137.6,208.39 138.1,208.21 138.5,209.07 139.0,207.72 139.4,207.69 139.9,207.73 140.3,208.36 140.8,208.33 141.2,207.65 141.7,208.26 142.1,207.93 142.6,208.22 143.0,207.98 143.4,207.13 143.9,207.42 144.3,207.14 144.8,207.31 145.2,207.07 145.7,206.87 146.1,207.06 146.6,206.64 147.0,206.81 147.5,206.35 147.9,206.11 148.4,206.43 148.8,206.26 149.2,206.18 149.7,205.66 150.1,205.00 150.6,204.86 151.0,204.46 151.5,203.17 151.9,202.98 152.4,203.65 152.8,202.40 153.3,200.61 153.7,201.35 154.2,201.08 154.6,200.22 155.0,201.75 155.5,201.36 155.9,201.51 156.4,201.44 156.8,202.17 157.3,202.76 157.7,203.00 158.2,202.83 158.6,203.49 159.1,203.66 159.5,203.86 159.9,203.31 160.4,203.87 160.8,203.64 161.3,203.56 161.7,203.29 162.2,202.21 162.6,202.83 163.1,202.29 163.5,200.80 164.0,200.75 164.4,199.76 164.9,199.27 165.3,199.26 165.7,198.44 166.2,198.59 166.6,197.39 167.1,196.70 167.5,197.34 168.0,196.50 168.4,198.90 168.9,198.87 169.3,199.71 169.8,200.39 170.2,200.75 170.7,201.88 171.1,202.35 171.5,203.19 172.0,204.22 172.4,204.13 172.9,205.94 173.3,205.20 173.8,206.47 174.2,206.19 174.7,206.25 175.1,207.28 175.6,207.44 176.0,207.49 176.5,207.78 176.9,207.71 177.3,208.34 177.8,208.07 178.2,208.41 178.7,209.00 179.1,207.98 179.6,208.37 180.0,208.35 180.5,208.29 180.9,208.01 181.4,208.43 181.8,208.51 182.3,208.24 182.7,207.36 183.1,208.11 183.6,207.78 184.0,207.07 184.5,206.07 184.9,205.51 185.4,206.02 185.8,205.06 186.3,203.51 186.7,201.76 187.2,201.47 187.6,199.59 188.1,198.76 188.5,196.15 188.9,194.95 189.4,192.96 189.8,191.73 190.3,189.56 190.7,188.88 191.2,187.21 191.6,186.25 192.1,186.61 192.5,186.62 193.0,186.19 193.4,188.14 193.9,189.56 194.3,191.20 194.7,193.78 195.2,194.40 195.6,196.52 196.1,197.57 196.5,199.40 197.0,201.41 197.4,203.11 197.9,204.45 198.3,206.06 198.8,207.22 199.2,208.32 199.7,208.66 200.1,209.71 200.5,209.83 201.0,210.89 201.4,211.44 201.9,211.43 202.3,210.59 202.8,212.07 203.2,213.81 203.7,212.87 204.1,212.86 204.6,213.41 205.0,214.05 205.5,213.88 205.9,213.80 206.3,213.47 206.8,214.05 207.2,213.79 207.7,214.61 208.1,215.25 208.6,215.16 209.0,214.53 209.5,214.46 209.9,214.38 210.4,215.30 210.8,215.46 211.3,215.65 211.7,215.53 212.1,214.93 212.6,214.69 213.0,216.14 213.5,215.34 213.9,216.65 214.4,214.93 214.8,215.46 215.3,215.61 215.7,216.22 216.2,216.48 216.6,216.00 217.1,216.59 217.5,215.81 217.9,216.24 218.4,215.98 218.8,216.34 219.3,216.37 219.7,216.86 220.2,218.33 220.6,216.23 221.1,216.82 221.5,217.27 222.0,217.05 222.4,217.71 222.9,216.67 223.3,217.53 223.7,216.88 224.2,217.65 224.6,217.40 225.1,217.48 225.5,217.15 226.0,216.63 226.4,217.00 226.9,217.86 227.3,217.46 227.8,217.94 228.2,217.05 228.7,217.97 229.1,218.17 229.5,216.75 230.0,217.92 230.4,218.68 230.9,217.50 231.3,218.31 231.8,217.91 232.2,218.31 232.7,217.78 233.1,217.63 233.6,217.81 234.0,217.87 234.5,217.79 234.9,217.69 235.3,218.60 235.8,217.87 236.2,217.61 236.7,217.76 237.1,218.42 237.6,217.22 238.0,218.47 238.5,218.59 238.9,218.87 239.4,218.12 239.8,217.97 240.2,218.43 240.7,218.44 241.1,218.99 241.6,218.44 242.0,218.25 242.5,217.86 242.9,218.38 243.4,218.53 243.8,219.04 244.3,218.58 244.7,219.16 245.2,219.13 245.6,218.24 246.0,218.09 246.5,218.34 246.9,218.53 247.4,218.29 247.8,218.99 248.3,218.99 248.7,219.25 249.2,218.85 249.6,218.54 250.1,218.94 250.5,218.36 251.0,218.85 251.4,218.46 251.8,219.34 252.3,217.63 252.7,219.23 253.2,219.26 253.6,218.86 254.1,219.04 254.5,219.00 255.0,219.50 255.4,219.68 255.9,218.96 256.3,219.70 256.8,218.69 257.2,219.18 257.6,219.21 258.1,218.46 258.5,219.18 259.0,218.75 259.4,219.42 259.9,218.68 260.3,218.30 260.8,218.53 261.2,219.13 261.7,219.28 262.1,219.31 262.6,218.83 263.0,219.54 263.4,218.95 263.9,219.12 264.3,219.67 264.8,219.17 265.2,218.42 265.7,219.60 266.1,219.29 266.6,219.13 267.0,219.90 267.5,219.05 267.9,219.64 268.4,219.42 268.8,220.54 269.2,218.57 269.7,219.48 270.1,219.56 270.6,219.91 271.0,219.23 271.5,219.15 271.9,220.06 272.4,219.25 272.8,219.58 273.3,219.43 273.7,219.63 274.2,218.85 274.6,219.22 275.0,219.44 275.5,219.51 275.9,219.95 276.4,219.68 276.8,219.70 277.3,219.41 277.7,219.99 278.2,219.14 278.6,219.36 279.1,218.72 279.5,218.90 280.0,219.74 280.4,219.31 280.8,218.48 281.3,219.27 281.7,219.17 282.2,218.74 282.6,219.37 283.1,219.08 283.5,219.17 284.0,219.57 284.4,218.83 284.9,219.57 285.3,218.93 285.8,218.90 286.2,219.56 286.6,219.11 287.1,218.71 287.5,218.80 288.0,218.90 288.4,218.10 288.9,218.99 289.3,218.63 289.8,217.99 290.2,218.07 290.7,218.81 291.1,217.78 291.6,219.22 292.0,217.69 292.4,218.16 292.9,216.82 293.3,217.83 293.8,217.51 294.2,217.84 294.7,217.58 295.1,217.21 295.6,218.19 296.0,217.44 296.5,216.62 296.9,216.97 297.4,215.38 297.8,216.27 298.2,216.96 298.7,216.02 299.1,216.20 299.6,215.49 300.0,216.24 300.5,215.82 300.9,215.65 301.4,215.96 301.8,216.17 302.3,215.69 302.7,214.45 303.2,215.31 303.6,215.15 304.0,214.44 304.5,214.15 304.9,214.62 305.4,214.61 305.8,214.67 306.3,214.33 306.7,214.71 307.2,214.76 307.6,214.50 308.1,214.82 308.5,214.41 309.0,214.00 309.4,214.76 309.8,215.21 310.3,216.10 310.7,214.00 311.2,214.82 311.6,214.74 312.1,215.34 312.5,214.92 313.0,215.47 313.4,215.96 313.9,215.29 314.3,215.70 314.8,216.57 315.2,216.36 315.6,215.35 316.1,217.13 316.5,216.01 317.0,216.58 317.4,216.39 317.9,216.50 318.3,216.53 318.8,217.25 319.2,216.75 319.7,216.67 320.1,217.11 320.6,217.49 321.0,216.72 321.4,218.10 321.9,217.54 322.3,218.30 322.8,218.71 323.2,218.34 323.7,218.54 324.1,218.19 324.6,218.19 325.0,217.73 325.5,218.59 325.9,218.52 326.3,217.78 326.8,219.06 327.2,219.70 327.7,219.28 328.1,219.70 328.6,219.14 329.0,218.87 329.5,219.44 329.9,219.32 330.4,219.04 330.8,220.08 331.3,219.75 331.7,219.44 332.1,219.88 332.6,219.78 333.0,220.18 333.5,220.66 333.9,219.71 334.4,219.49 334.8,220.69 335.3,221.18 335.7,219.85 336.2,219.74 336.6,219.64 337.1,220.20 337.5,220.27 337.9,220.12 338.4,220.63 338.8,219.90 339.3,220.02 339.7,219.73 340.2,220.93 340.6,220.81 341.1,220.92 341.5,219.97 342.0,220.96 342.4,220.51 342.9,220.71 343.3,220.66 343.7,220.27 344.2,220.35 344.6,219.74 345.1,220.20 345.5,220.35 346.0,219.95 346.4,220.52 346.9,221.06 347.3,220.27 347.8,220.07 348.2,220.13 348.7,220.61 349.1,221.32 349.5,220.62 350.0,220.58 350.4,220.00 350.9,220.72 351.3,220.86 351.8,220.40 352.2,220.58 352.7,220.30 353.1,220.93 353.6,221.21 354.0,220.79 354.5,220.85 354.9,220.65 355.3,220.35 355.8,220.29 356.2,220.46 356.7,220.70 357.1,220.65 357.6,221.11 358.0,220.99 358.5,221.33 358.9,221.02 359.4,220.57 359.8,220.72 360.3,219.95 360.7,221.43 361.1,220.43 361.6,220.51 362.0,221.51 362.5,220.21 362.9,220.42 363.4,220.67 363.8,220.44 364.3,220.74 364.7,220.81 365.2,220.99 365.6,220.66 366.1,221.02 366.5,220.56"/>
<polyline points="27.9,188.65 28.3,188.90 28.8,187.59 29.2,188.26 29.7,188.44 30.1,187.51 30.6,186.98 31.0,188.49 31.5,188.05 31.9,188.68 32.4,188.32 32.8,188.32 33.3,188.16 33.7,188.35 34.1,187.90 34.6,188.06 35.0,188.64 35.5,188.17 35.9,188.50 36.4,188.26 36.8,188.11 37.3,187.82 37.7,188.62 38.2,187.86 38.6,188.39 39.1,187.52 39.5,188.33 39.9,188.37 40.4,187.91 40.8,187.46 41.3,188.10 41.7,188.21 42.2,187.92 42.6,187.84 43.1,188.54 43.5,188.08 44.0,187.93 44.4,188.49 44.9,188.09 45.3,187.78 45.7,188.47 46.2,187.91 46.6,188.47 47.1,187.75 47.5,188.18 48.0,188.58 48.4,188.22 48.9,188.23 49.3,188.20 49.8,188.37 50.2,188.01 50.7,188.17 51.1,187.85 51.5,188.81 52.0,187.54 52.4,188.29 52.9,187.48 53.3,188.14 53.8,188.48 54.2,187.39 54.7,188.65 55.1,187.43 55.6,187.48 56.0,187.98 56.5,187.33 56.9,188.24 57.3,188.02 57.8,186.57 58.2,187.14 58.7,187.44 59.1,187.93 59.6,187.26 60.0,187.40 60.5,187.98 60.9,187.25 61.4,187.81 61.8,187.06 62.3,188.10 62.7,188.27 63.1,187.11 63.6,186.56 64.0,186.85 64.5,188.01 64.9,187.31 65.4,188.02 65.8,186.94 66.3,187.10 66.7,187.45 67.2,187.96 67.6,187.37 68.1,186.99 68.5,187.57 68.9,187.45 69.4,187.62 69.8,187.30 70.3,187.09 70.7,187.36 71.2,186.23 71.6,187.43 72.1,187.84 72.5,187.52 73.0,186.83 73.4,186.55 73.8,187.80 74.3,186.96 74.7,187.08 75.2,187.25 75.6,186.86 76.1,187.12 76.5,187.75 77.0,186.84 77.4,187.89 77.9,187.18 78.3,187.13 78.8,187.38 79.2,187.35 79.6,187.38 80.1,187.13 80.5,186.60 81.0,187.55 81.4,186.73 81.9,186.39 82.3,187.13 82.8,186.99 83.2,186.65 83.7,186.66 84.1,186.85 84.6,187.41 85.0,186.48 85.4,185.92 85.9,186.18 86.3,186.62 86.8,186.27 87.2,186.02 87.7,186.59 88.1,186.55 88.6,186.09 89.0,186.26 89.5,185.80 89.9,185.77 90.4,185.84 90.8,185.34 91.2,186.04 91.7,185.81 92.1,185.57 92.6,185.79 93.0,185.75 93.5,185.30 93.9,185.32 94.4,185.18 94.8,186.07 95.3,184.67 95.7,185.33 96.2,185.68 96.6,184.77 97.0,184.77 97.5,184.70 97.9,184.28 98.4,185.54 98.8,184.85 99.3,184.41 99.7,184.55 100.2,184.85 100.6,184.57 101.1,184.26 101.5,184.82 102.0,184.14 102.4,184.30 102.8,184.49 103.3,184.04 103.7,184.33 104.2,183.95 104.6,185.36 105.1,183.94 105.5,184.36 106.0,183.62 106.4,183.44 106.9,183.82 107.3,183.65 107.8,183.59 108.2,183.67 108.6,184.01 109.1,184.40 109.5,184.38 110.0,183.44 110.4,184.16 110.9,184.03 111.3,182.93 111.8,182.92 112.2,183.02 112.7,183.87 113.1,182.86 113.6,182.74 114.0,183.39 114.4,182.62 114.9,182.56 115.3,182.82 115.8,182.56 116.2,181.33 116.7,181.77 117.1,182.56 117.6,181.53 118.0,182.64 118.5,181.98 118.9,182.05 119.4,181.98 119.8,180.98 120.2,181.38 120.7,181.15 121.1,181.64 121.6,182.13 122.0,181.27 122.5,181.32 122.9,180.34 123.4,180.96 123.8,180.93 124.3,180.87 124.7,181.14 125.2,181.41 125.6,180.70 126.0,180.79 126.5,179.84 126.9,180.71 127.4,180.37 127.8,179.49 128.3,180.33 128.7,179.80 129.2,180.45 129.6,180.12 130.1,179.86 130.5,180.49 131.0,179.56 131.4,179.40 131.8,179.45 132.3,179.39 132.7,178.86 133.2,179.39 133.6,179.22 134.1,178.69 134.5,178.12 135.0,179.24 135.4,179.18 135.9,178.88 136.3,178.81 136.8,179.06 137.2,178.29 137.6,178.76 138.1,177.85 138.5,177.41 139.0,177.70 139.4,177.43 139.9,177.68 140.3,178.16 140.8,177.42 141.2,177.59 141.7,177.97 142.1,177.71 142.6,176.85 143.0,176.40 143.4,177.55 143.9,176.02 144.3,175.58 144.8,175.40 145.2,176.71 145.7,175.43 146.1,175.87 146.6,175.81 147.0,176.34 147.5,175.01 147.9,175.51 148.4,175.47 148.8,175.79 149.2,174.86 149.7,174.86 150.1,174.35 150.6,174.66 151.0,174.25 151.5,173.28 151.9,173.31 152.4,172.00 152.8,172.31 153.3,171.54 153.7,171.51 154.2,172.03 154.6,172.57 155.0,171.84 155.5,171.93 155.9,172.15 156.4,172.95 156.8,172.84 157.3,173.63 157.7,174.12 158.2,173.89 158.6,173.56 159.1,174.15 159.5,173.52 159.9,173.01 160.4,174.22 160.8,174.42 161.3,173.96 161.7,172.94 162.2,171.27 162.6,172.09 163.1,172.28 163.5,171.35 164.0,171.65 164.4,170.13 164.9,170.20 165.3,169.58 165.7,169.18 166.2,168.12 166.6,168.54 167.1,168.72 167.5,168.61 168.0,168.57 168.4,169.43 168.9,169.80 169.3,171.03 169.8,171.96 170.2,172.33 170.7,172.98 171.1,173.33 171.5,174.05 172.0,173.60 172.4,174.97 172.9,175.76 173.3,175.50 173.8,176.39 174.2,175.70 174.7,176.68 175.1,176.82 175.6,177.34 176.0,177.40 176.5,178.52 176.9,176.25 177.3,177.18 177.8,177.66 178.2,178.11 178.7,177.87 179.1,177.92 179.6,177.56 180.0,177.67 180.5,177.88 180.9,178.91 181.4,177.78 181.8,179.26 182.3,178.32 182.7,177.48 183.1,177.68 183.6,177.41 184.0,175.95 184.5,175.22 184.9,175.98 185.4,174.14 185.8,174.12 186.3,173.08 186.7,170.95 187.2,170.84 187.6,169.57 188.1,168.59 188.5,166.66 188.9,165.56 189.4,164.27 189.8,162.85 190.3,162.76 190.7,161.78 191.2,161.69 191.6,161.18 192.1,161.93 192.5,161.70 193.0,162.87 193.4,164.83 193.9,165.65 194.3,167.03 194.7,168.76 195.2,169.43 195.6,171.63 196.1,173.11 196.5,173.99 197.0,174.76 197.4,177.10 197.9,177.44 198.3,177.61 198.8,178.54 199.2,178.73 199.7,179.24 200.1,179.65 200.5,180.57 201.0,181.52 201.4,181.99 201.9,181.90 202.3,182.67 202.8,182.69 203.2,182.13 203.7,182.46 204.1,183.14 204.6,183.48 205.0,183.81 205.5,182.84 205.9,182.71 206.3,184.63 206.8,183.71 207.2,184.40 207.7,184.07 208.1,183.53 208.6,184.89 209.0,184.57 209.5,185.11 209.9,184.81 210.4,184.18 210.8,184.69 211.3,185.24 211.7,184.56 212.1,185.03 212.6,185.55 213.0,184.54 213.5,185.01 213.9,185.33 214.4,185.75 214.8,185.35 215.3,185.14 215.7,185.78 216.2,185.32 216.6,185.85 217.1,185.89 217.5,185.71 217.9,186.25 218.4,186.46 218.8,185.40 219.3,186.28 219.7,186.03 220.2,186.03 220.6,186.26 221.1,186.81 221.5,186.27 222.0,186.25 222.4,185.88 222.9,186.42 223.3,186.55 223.7,186.16 224.2,186.51 224.6,186.90 225.1,187.36 225.5,186.65 226.0,187.72 226.4,187.31 226.9,187.29 227.3,187.20 227.8,187.02 228.2,186.73 228.7,187.01 229.1,187.10 229.5,187.18 230.0,187.84 230.4,188.07 230.9,187.45 231.3,187.69 231.8,186.95 232.2,186.40 232.7,187.28 233.1,187.46 233.6,188.01 234.0,188.49 234.5,187.55 234.9,188.05 235.3,187.98 235.8,187.61 236.2,187.91 236.7,187.73 237.1,188.28 237.6,187.13 238.0,186.59 238.5,187.71 238.9,188.09 239.4,188.17 239.8,187.47 240.2,187.99 240.7,187.47 241.1,188.09 241.6,187.47 242.0,187.35 242.5,188.27 242.9,187.30 243.4,187.23 243.8,188.26 244.3,187.97 244.7,186.90 245.2,188.50 245.6,187.43 246.0,187.80 246.5,187.97 246.9,188.94 247.4,188.04 247.8,188.48 248.3,188.03 248.7,188.34 249.2,187.49 249.6,188.14 250.1,187.88 250.5,187.72 251.0,188.32 251.4,188.67 251.8,188.44 252.3,188.10 252.7,188.58 253.2,187.77 253.6,188.43 254.1,188.53 254.5,188.28 255.0,188.22 255.4,188.40 255.9,188.10 256.3,188.28 256.8,188.72 257.2,187.54 257.6,188.98 258.1,188.64 258.5,188.54 259.0,188.01 259.4,188.29 259.9,188.22 260.3,188.81 260.8,188.80 261.2,189.05 261.7,188.58 262.1,187.66 262.6,188.15 263.0,188.43 263.4,188.76 263.9,187.95 264.3,188.55 264.8,188.68 265.2,188.40 265.7,188.59 266.1,189.71 266.6,188.70 267.0,189.61 267.5,188.84 267.9,188.43 268.4,189.01 268.8,188.59 269.2,188.75 269.7,187.79 270.1,188.96 270.6,188.55 271.0,189.33 271.5,188.88 271.9,188.66 272.4,188.37 272.8,188.85 273.3,188.68 273.7,188.50 274.2,189.69 274.6,188.79 275.0,189.25 275.5,189.51 275.9,189.03 276.4,189.13 276.8,189.07 277.3,189.27 277.7,189.09 278.2,189.05 278.6,188.87 279.1,188.59 279.5,188.60 280.0,188.49 280.4,188.85 280.8,189.33 281.3,188.31 281.7,188.44 282.2,188.26 282.6,188.65 283.1,189.12 283.5,188.49 284.0,188.75 284.4,187.56 284.9,188.51 285.3,188.76 285.8,188.25 286.2,187.77 286.6,188.67 287.1,188.38 287.5,189.21 288.0,188.10 288.4,188.25 288.9,188.11 289.3,188.27 289.8,187.37 290.2,188.73 290.7,188.34 291.1,187.89 291.6,187.76 292.0,188.08 292.4,187.93 292.9,187.49 293.3,187.51 293.8,187.64 294.2,187.19 294.7,187.13 295.1,186.97 295.6,186.87 296.0,186.33 296.5,186.36 296.9,186.82 297.4,186.87 297.8,186.37 298.2,184.67 298.7,185.47 299.1,186.19 299.6,186.63 300.0,186.30 300.5,185.55 300.9,185.38 301.4,185.23 301.8,186.09 302.3,185.32 302.7,184.71 303.2,185.44 303.6,185.30 304.0,183.95 304.5,184.49 304.9,185.16 305.4,185.05 305.8,184.05 306.3,184.57 306.7,184.94 307.2,184.69 307.6,184.07 308.1,184.47 308.5,184.88 309.0,184.84 309.4,184.24 309.8,185.77 310.3,184.89 310.7,184.20 311.2,184.80 311.6,183.82 312.1,184.82 312.5,185.20 313.0,186.38 313.4,185.50 313.9,185.69 314.3,185.97 314.8,185.83 315.2,185.59 315.6,186.57 316.1,186.32 316.5,186.89 317.0,186.79 317.4,186.05 317.9,186.39 318.3,186.54 318.8,186.67 319.2,187.17 319.7,187.02 320.1,186.87 320.6,187.99 321.0,188.06 321.4,187.58 321.9,187.20 322.3,187.50 322.8,187.54 323.2,187.58 323.7,187.64 324.1,188.26 324.6,188.38 325.0,188.52 325.5,188.00 325.9,188.63 326.3,189.45 326.8,188.76 327.2,188.56 327.7,190.01 328.1,189.02 328.6,188.67 329.0,189.41 329.5,188.77 329.9,188.98 330.4,189.65 330.8,188.99 331.3,188.65 331.7,189.67 332.1,189.77 332.6,188.83 333.0,189.32 333.5,189.99 333.9,189.65 334.4,189.94 334.8,189.54 335.3,189.34 335.7,189.39 336.2,189.52 336.6,189.75 337.1,188.50 337.5,188.86 337.9,189.72 338.4,190.02 338.8,189.45 339.3,189.76 339.7,189.29 340.2,189.17 340.6,189.86 341.1,189.77 341.5,189.59 342.0,189.25 342.4,189.87 342.9,189.82 343.3,189.74 343.7,189.81 344.2,189.71 344.6,190.11 345.1,190.07 345.5,190.68 346.0,190.53 346.4,189.90 346.9,189.39 347.3,190.21 347.8,189.68 348.2,190.62 348.7,189.30 349.1,189.77 349.5,190.64 350.0,189.98 350.4,190.30 350.9,190.28 351.3,189.78 351.8,190.37 352.2,189.63 352.7,189.87 353.1,190.95 353.6,189.94 354.0,190.19 354.5,189.57 354.9,190.63 355.3,189.64 355.8,189.72 356.2,189.79 356.7,189.64 357.1,189.44 357.6,189.94 358.0,189.85 358.5,190.03 358.9,189.64 359.4,189.68 359.8,189.94 360.3,190.08 360.7,189.68 361.1,190.07 361.6,189.98 362.0,190.55 362.5,190.37 362.9,190.31 363.4,190.53 363.8,189.82 364.3,190.68 364.7,190.18 365.2,189.88 365.6,190.27 366.1,189.63 366.5,190.87"/>
<polyline points="27.9,157.75 28.3,156.98 28.8,157.14 29.2,157.41 29.7,157.38 30.1,157.82 30.6,158.00 31.0,158.05 31.5,157.84 31.9,157.19 32.4,158.08 32.8,158.12 33.3,156.73 33.7,157.32 34.1,157.41 34.6,157.21 35.0,158.00 35.5,157.74 35.9,157.55 36.4,156.99 36.8,156.61 37.3,157.10 37.7,157.13 38.2,157.09 38.6,156.55 39.1,156.80 39.5,157.27 39.9,157.59 40.4,157.21 40.8,157.32 41.3,157.38 41.7,157.38 42.2,157.92 42.6,157.04 43.1,157.47 43.5,156.79 44.0,157.87 44.4,157.67 44.9,157.77 45.3,157.37 45.7,157.26 46.2,156.74 46.6,157.43 47.1,157.88 47.5,156.06 48.0,158.03 48.4,156.89 48.9,157.45 49.3,156.87 49.8,157.15 50.2,157.56 50.7,157.11 51.1,157.97 51.5,157.19 52.0,157.44 52.4,156.88 52.9,156.92 53.3,156.95 53.8,157.33 54.2,157.83 54.7,157.10 55.1,156.51 55.6,156.79 56.0,156.45 56.5,157.25 56.9,157.04 57.3,156.54 57.8,156.84 58.2,157.40 58.7,157.17 59.1,156.71 59.6,157.27 60.0,157.10 60.5,156.68 60.9,156.98 61.4,157.71 61.8,156.39 62.3,157.30 62.7,156.78 63.1,157.10 63.6,156.99 64.0,156.92 64.5,156.71 64.9,156.76 65.4,157.04 65.8,156.93 66.3,156.07 66.7,156.89 67.2,157.25 67.6,157.05 68.1,156.73 68.5,155.82 68.9,156.86 69.4,156.88 69.8,157.21 70.3,156.13 70.7,156.42 71.2,156.27 71.6,156.37 72.1,155.71 72.5,156.24 73.0,156.23 73.4,156.23 73.8,157.08 74.3,156.08 74.7,156.14 75.2,156.80 75.6,156.04 76.1,156.79 76.5,156.43 77.0,155.93 77.4,155.87 77.9,156.22 78.3,156.05 78.8,156.15 79.2,155.82 79.6,156.31 80.1,155.72 80.5,155.78 81.0,155.88 81.4,155.37 81.9,155.75 82.3,155.77 82.8,155.19 83.2,155.00 83.7,156.29 84.1,155.59 84.6,155.61 85.0,155.35 85.4,156.28 85.9,155.46 86.3,154.72 86.8,155.68 87.2,154.99 87.7,155.56 88.1,155.27 88.6,155.84 89.0,155.44 89.5,155.02 89.9,155.77 90.4,156.29 90.8,154.80 91.2,155.47 91.7,155.10 92.1,155.09 92.6,154.29 93.0,154.35 93.5,155.36 93.9,154.74 94.4,154.39 94.8,155.36 95.3,155.05 95.7,154.78 96.2,153.97 96.6,154.34 97.0,154.94 97.5,153.33 97.9,153.47 98.4,153.76 98.8,154.49 99.3,154.10 99.7,154.15 100.2,153.97 100.6,153.87 101.1,154.30 101.5,155.30 102.0,153.85 102.4,154.17 102.8,153.33 103.3,154.18 103.7,153.45 104.2,153.42 104.6,153.08 105.1,152.88 105.5,152.92 106.0,152.66 106.4,152.46 106.9,153.79 107.3,153.10 107.8,153.28 108.2,152.99 108.6,152.07 109.1,152.65 109.5,152.17 110.0,152.14 110.4,152.37 110.9,152.43 111.3,152.32 111.8,152.26 112.2,152.01 112.7,152.08 113.1,152.55 113.6,152.89 114.0,152.34 114.4,151.66 114.9,151.86 115.3,152.03 115.8,151.98 116.2,151.99 116.7,151.92 117.1,151.47 117.6,151.08 118.0,150.44 118.5,151.52 118.9,151.24 119.4,150.50 119.8,150.80 120.2,150.53 120.7,150.43 121.1,151.32 121.6,150.29 122.0,151.46 122.5,150.22 122.9,149.87 123.4,150.17 123.8,151.10 124.3,149.86 124.7,150.07 125.2,148.74 125.6,149.93 126.0,148.96 126.5,149.43 126.9,150.00 127.4,149.19 127.8,149.53 128.3,149.01 128.7,148.87 129.2,149.05 129.6,149.32 130.1,148.78 130.5,148.63 131.0,148.11 131.4,147.68 131.8,148.39 132.3,148.14 132.7,148.24 133.2,148.47 133.6,148.26 134.1,147.38 134.5,147.78 135.0,147.67 135.4,147.31 135.9,146.29 136.3,146.82 136.8,147.01 137.2,147.27 137.6,146.66 138.1,146.05 138.5,147.17 139.0,146.42 139.4,146.11 139.9,146.43 140.3,146.39 140.8,145.93 141.2,145.59 141.7,145.48 142.1,145.99 142.6,145.46 143.0,145.65 143.4,144.47 143.9,145.01 144.3,144.96 144.8,144.83 145.2,144.07 145.7,144.65 146.1,145.46 146.6,144.78 147.0,144.30 147.5,144.09 147.9,143.67 148.4,144.22 148.8,143.59 149.2,143.55 149.7,143.89 150.1,143.64 150.6,143.19 151.0,141.84 151.5,141.99 151.9,142.44 152.4,141.06 152.8,141.90 153.3,141.17 153.7,141.56 154.2,141.02 154.6,140.85 155.0,141.15 155.5,142.53 155.9,142.00 156.4,141.85 156.8,143.00 157.3,142.13 157.7,142.89 158.2,143.22 158.6,143.26 159.1,143.33 159.5,143.08 159.9,141.94 160.4,143.05 160.8,142.77 161.3,142.50 161.7,142.57 162.2,142.41 162.6,141.84 163.1,142.05 163.5,141.97 164.0,140.70 164.4,139.99 164.9,139.17 165.3,139.65 165.7,138.32 166.2,139.71 166.6,139.37 167.1,138.81 167.5,139.62 168.0,139.30 168.4,139.66 168.9,141.02 169.3,140.76 169.8,141.87 170.2,142.24 170.7,143.52 171.1,143.44 171.5,144.46 172.0,144.55 172.4,144.20 172.9,144.37 173.3,144.27 173.8,145.53 174.2,144.53 174.7,145.66 175.1,145.18 175.6,146.20 176.0,146.99 176.5,146.46 176.9,146.77 177.3,146.96 177.8,147.42 178.2,146.75 178.7,147.55 179.1,147.53 179.6,147.16 180.0,147.20 180.5,148.18 180.9,147.92 181.4,147.71 181.8,147.03 182.3,147.08 182.7,146.43 183.1,145.94 183.6,146.18 184.0,145.70 184.5,144.92 184.9,144.36 185.4,144.42 185.8,143.32 186.3,142.02 186.7,142.78 187.2,140.16 187.6,140.08 188.1,138.58 188.5,138.41 188.9,137.29 189.4,137.00 189.8,135.96 190.3,135.34 190.7,136.27 191.2,135.81 191.6,136.21 192.1,136.94 192.5,137.55 193.0,139.03 193.4,140.70 193.9,141.72 194.3,142.28 194.7,143.50 195.2,144.56 195.6,144.89 196.1,146.73 196.5,146.98 197.0,146.78 197.4,148.53 197.9,148.43 198.3,149.49 198.8,150.12 199.2,150.08 199.7,150.69 200.1,151.49 200.5,150.54 201.0,150.56 201.4,151.58 201.9,151.72 202.3,152.95 202.8,152.63 203.2,152.57 203.7,152.43 204.1,151.74 204.6,152.15 205.0,152.72 205.5,153.06 205.9,152.89 206.3,153.24 206.8,153.61 207.2,153.07 207.7,153.29 208.1,153.13 208.6,154.20 209.0,152.83 209.5,154.09 209.9,154.25 210.4,153.07 210.8,153.84 211.3,154.62 211.7,153.79 212.1,154.01 212.6,154.32 213.0,155.00 213.5,154.76 213.9,154.24 214.4,154.00 214.8,154.00 215.3,154.90 215.7,153.84 216.2,154.62 216.6,155.21 217.1,154.46 217.5,154.92 217.9,155.08 218.4,155.53 218.8,154.64 219.3,155.34 219.7,155.34 220.2,155.47 220.6,154.77 221.1,155.76 221.5,155.21 222.0,155.59 222.4,155.31 222.9,156.62 223.3,155.82 223.7,156.80 224.2,155.61 224.6,155.81 225.1,156.64 225.5,155.85 226.0,156.26 226.4,156.62 226.9,155.97 227.3,155.87 227.8,156.10 228.2,156.70 228.7,156.47 229.1,156.90 229.5,156.23 230.0,156.16 230.4,155.90 230.9,156.31 231.3,156.20 231.8,156.45 232.2,156.11 232.7,156.24 233.1,156.45 233.6,157.05 234.0,156.49 234.5,156.41 234.9,157.16 235.3,157.33 235.8,156.61 236.2,156.66 236.7,155.98 237.1,156.12 237.6,156.83 238.0,157.50 238.5,157.73 238.9,157.29 239.4,156.73 239.8,157.20 240.2,156.33 240.7,156.98 241.1,156.50 241.6,157.06 242.0,157.72 242.5,158.08 242.9,157.22 243.4,157.32 243.8,156.42 244.3,156.89 244.7,157.89 245.2,157.75 245.6,157.62 246.0,157.46 246.5,158.02 246.9,157.19 247.4,157.23 247.8,158.60 248.3,156.97 248.7,157.58 249.2,157.23 249.6,158.09 250.1,157.31 250.5,157.29 251.0,157.32 251.4,157.85 251.8,157.05 252.3,156.85 252.7,157.48 253.2,157.39 253.6,157.81 254.1,157.43 254.5,157.33 255.0,157.74 255.4,157.82 255.9,158.11 256.3,157.69 256.8,156.86 257.2,157.67 257.6,157.71 258.1,157.68 258.5,157.98 259.0,157.63 259.4,158.27 259.9,157.66 260.3,158.43 260.8,157.32 261.2,156.77 261.7,157.42 262.1,159.15 262.6,157.77 263.0,157.85 263.4,158.04 263.9,157.74 264.3,158.07 264.8,158.02 265.2,158.91 265.7,158.54 266.1,158.14 266.6,158.35 267.0,158.32 267.5,157.58 267.9,158.58 268.4,157.81 268.8,158.46 269.2,158.18 269.7,158.54 270.1,158.78 270.6,158.42 271.0,157.94 271.5,158.03 271.9,158.43 272.4,158.00 272.8,158.02 273.3,158.14 273.7,158.04 274.2,158.44 274.6,158.00 275.0,158.25 275.5,157.88 275.9,157.43 276.4,158.56 276.8,158.64 277.3,157.97 277.7,158.56 278.2,158.33 278.6,157.66 279.1,158.71 279.5,157.27 280.0,158.13 280.4,158.47 280.8,157.64 281.3,158.85 281.7,157.85 282.2,158.67 282.6,158.00 283.1,158.38 283.5,158.04 284.0,159.11 284.4,158.21 284.9,158.48 285.3,158.32 285.8,158.07 286.2,157.84 286.6,158.12 287.1,158.37 287.5,158.30 288.0,158.11 288.4,157.78 288.9,158.13 289.3,157.33 289.8,157.73 290.2,156.78 290.7,157.34 291.1,157.53 291.6,156.91 292.0,156.97 292.4,157.84 292.9,157.58 293.3,157.76 293.8,157.72 294.2,157.39 294.7,157.37 295.1,157.04 295.6,157.38 296.0,156.01 296.5,156.50 296.9,156.93 297.4,156.72 297.8,156.25 298.2,155.95 298.7,156.35 299.1,155.78 299.6,155.23 300.0,156.14 300.5,155.33 300.9,155.48 301.4,154.55 301.8,154.03 302.3,155.28 302.7,155.73 303.2,153.87 303.6,154.58 304.0,154.98 304.5,154.74 304.9,154.62 305.4,154.52 305.8,154.05 306.3,154.95 306.7,154.86 307.2,154.59 307.6,153.39 308.1,155.19 308.5,154.44 309.0,154.74 309.4,155.41 309.8,155.19 310.3,154.63 310.7,155.22 311.2,155.09 311.6,154.64 312.1,155.05 312.5,154.28 313.0,154.47 313.4,155.36 313.9,156.01 314.3,155.04 314.8,156.13 315.2,155.77 315.6,156.63 316.1,155.77 316.5,157.39 317.0,156.38 317.4,156.19 317.9,156.53 318.3,155.71 318.8,156.81 319.2,156.63 319.7,157.12 320.1,156.85 320.6,155.88 321.0,156.04 321.4,157.01 321.9,156.83 322.3,157.89 322.8,157.10 323.2,157.87 323.7,157.68 324.1,158.54 324.6,157.96 325.0,158.09 325.5,157.62 325.9,158.32 326.3,158.52 326.8,158.24 327.2,158.68 327.7,157.96 328.1,158.39 328.6,158.73 329.0,158.46 329.5,159.21 329.9,159.00 330.4,158.47 330.8,158.37 331.3,158.83 331.7,158.54 332.1,158.71 332.6,158.41 333.0,159.29 333.5,159.04 333.9,159.12 334.4,159.37 334.8,157.98 335.3,159.05 335.7,158.94 336.2,159.37 336.6,159.30 337.1,159.32 337.5,159.68 337.9,158.27 338.4,158.64 338.8,159.68 339.3,159.80 339.7,158.79 340.2,159.67 340.6,159.57 341.1,158.57 341.5,158.92 342.0,159.36 342.4,159.18 342.9,160.04 343.3,159.51 343.7,159.65 344.2,158.96 344.6,158.71 345.1,159.00 345.5,159.92 346.0,160.12 346.4,158.93 346.9,159.24 347.3,158.19 347.8,159.90 348.2,158.76 348.7,159.74 349.1,159.92 349.5,158.74 350.0,158.96 350.4,159.68 350.9,159.98 351.3,159.13 351.8,158.90 352.2,159.54 352.7,159.96 353.1,158.89 353.6,159.04 354.0,159.93 354.5,159.50 354.9,159.04 355.3,159.42 355.8,159.63 356.2,159.89 356.7,159.56 357.1,159.42 357.6,158.68 358.0,159.68 358.5,159.67 358.9,159.53 359.4,159.45 359.8,159.50 360.3,159.88 360.7,159.28 361.1,158.91 361.6,159.86 362.0,159.29 362.5,159.33 362.9,159.65 363.4,159.35 363.8,159.43 364.3,158.96 364.7,160.05 365.2,158.86 365.6,160.06 366.1,158.89 366.5,159.14"/>
<polyline points="27.9,126.69 28.3,127.27 28.8,126.96 29.2,126.66 29.7,126.30 30.1,127.31 30.6,126.87 31.0,127.04 31.5,126.76 31.9,126.61 32.4,127.13 32.8,126.96 33.3,127.33 33.7,126.90 34.1,126.17 34.6,127.14 35.0,126.81 35.5,126.68 35.9,125.38 36.4,126.38 36.8,126.83 37.3,126.47 37.7,126.86 38.2,127.00 38.6,126.72 39.1,126.29 39.5,126.90 39.9,126.86 40.4,126.58 40.8,125.83 41.3,126.11 41.7,127.02 42.2,126.53 42.6,125.83 43.1,126.55 43.5,126.64 44.0,126.90 44.4,126.79 44.9,126.76 45.3,126.23 45.7,125.81 46.2,126.28 46.6,127.16 47.1,125.85 47.5,126.92 48.0,125.83 48.4,125.91 48.9,126.53 49.3,126.11 49.8,126.35 50.2,125.93 50.7,126.50 51.1,126.81 51.5,125.75 52.0,126.65 52.4,126.56 52.9,126.73 53.3,125.34 53.8,126.76 54.2,125.82 54.7,126.21 55.1,126.11 55.6,125.84 56.0,125.90 56.5,125.95 56.9,126.34 57.3,126.58 57.8,126.10 58.2,126.57 58.7,126.27 59.1,126.71 59.6,125.58 60.0,126.23 60.5,126.13 60.9,126.19 61.4,126.28 61.8,126.47 62.3,126.15 62.7,126.31 63.1,125.93 63.6,125.98 64.0,125.74 64.5,126.49 64.9,126.34 65.4,126.55 65.8,125.75 66.3,125.86 66.7,127.03 67.2,126.39 67.6,125.24 68.1,126.20 68.5,126.01 68.9,125.68 69.4,125.69 69.8,125.41 70.3,125.54 70.7,125.41 71.2,125.21 71.6,125.54 72.1,125.29 72.5,125.99 73.0,126.11 73.4,125.56 73.8,125.45 74.3,125.87 74.7,125.51 75.2,126.44 75.6,124.33 76.1,124.44 76.5,124.97 77.0,125.65 77.4,125.77 77.9,125.18 78.3,125.37 78.8,125.21 79.2,125.53 79.6,126.19 80.1,124.23 80.5,126.22 81.0,125.67 81.4,125.02 81.9,125.35 82.3,125.08 82.8,125.28 83.2,125.24 83.7,125.34 84.1,124.50 84.6,125.19 85.0,124.58 85.4,124.70 85.9,125.15 86.3,124.55 86.8,124.85 87.2,124.81 87.7,124.67 88.1,124.03 88.6,124.75 89.0,124.57 89.5,125.44 89.9,123.92 90.4,124.82 90.8,124.11 91.2,124.11 91.7,124.97 92.1,124.09 92.6,124.46 93.0,124.10 93.5,123.59 93.9,123.84 94.4,123.69 94.8,123.73 95.3,124.62 95.7,123.94 96.2,122.89 96.6,124.46 97.0,123.73 97.5,123.91 97.9,124.15 98.4,123.02 98.8,123.48 99.3,123.21 99.7,123.06 100.2,123.03 100.6,123.15 101.1,123.57 101.5,123.34 102.0,123.06 102.4,123.41 102.8,121.77 103.3,122.77 103.7,122.85 104.2,122.77 104.6,123.21 105.1,122.59 105.5,123.07 106.0,122.31 106.4,122.64 106.9,122.31 107.3,122.08 107.8,122.36 108.2,122.32 108.6,121.60 109.1,122.36 109.5,121.75 110.0,121.84 110.4,120.52 110.9,121.64 111.3,120.72 111.8,121.90 112.2,121.09 112.7,121.17 113.1,121.21 113.6,120.62 114.0,121.16 114.4,120.52 114.9,120.90 115.3,121.30 115.8,121.41 116.2,121.40 116.7,120.58 117.1,120.17 117.6,120.74 118.0,121.14 118.5,119.97 118.9,120.89 119.4,120.14 119.8,118.92 120.2,120.06 120.7,120.79 121.1,120.19 121.6,120.26 122.0,119.88 122.5,118.85 122.9,118.46 123.4,118.96 123.8,119.18 124.3,118.81 124.7,118.81 125.2,119.44 125.6,119.66 126.0,118.15 126.5,118.34 126.9,118.69 127.4,118.55 127.8,117.49 128.3,119.78 128.7,118.68 129.2,118.44 129.6,117.31 130.1,118.22 130.5,117.46 131.0,118.12 131.4,117.92 131.8,117.71 132.3,117.78 132.7,117.22 133.2,117.45 133.6,116.17 134.1,117.47 134.5,116.94 135.0,118.05 135.4,116.84 135.9,115.61 136.3,117.24 136.8,116.09 137.2,115.79 137.6,116.16 138.1,116.64 138.5,116.82 139.0,115.65 139.4,115.80 139.9,115.69 140.3,115.18 140.8,115.14 141.2,115.20 141.7,115.14 142.1,115.55 142.6,114.10 143.0,115.10 143.4,114.96 143.9,115.33 144.3,114.45 144.8,114.38 145.2,114.52 145.7,114.14 146.1,114.06 146.6,113.95 147.0,113.87 147.5,113.63 147.9,113.73 148.4,113.56 148.8,113.48 149.2,113.10 149.7,114.02 150.1,113.60 150.6,113.31 151.0,112.70 151.5,113.34 151.9,112.82 152.4,112.77 152.8,112.78 153.3,112.64 153.7,113.14 154.2,112.37 154.6,112.49 155.0,112.93 155.5,112.85 155.9,113.26 156.4,113.49 156.8,113.74 157.3,113.58 157.7,113.04 158.2,113.08 158.6,112.96 159.1,113.59 159.5,112.89 159.9,112.50 160.4,112.27 160.8,112.91 161.3,111.97 161.7,110.92 162.2,112.15 162.6,111.66 163.1,111.50 163.5,111.23 164.0,110.62 164.4,110.18 164.9,109.67 165.3,108.98 165.7,108.16 166.2,108.12 166.6,109.19 167.1,109.54 167.5,109.48 168.0,109.50 168.4,110.58 168.9,110.78 169.3,111.30 169.8,111.64 170.2,111.77 170.7,112.32 171.1,113.39 171.5,114.36 172.0,114.80 172.4,114.28 172.9,114.89 173.3,114.95 173.8,115.33 174.2,115.71 174.7,116.17 175.1,115.47 175.6,116.99 176.0,116.33 176.5,116.12 176.9,117.77 177.3,116.48 177.8,117.00 178.2,116.81 178.7,117.77 179.1,116.11 179.6,117.53 180.0,116.70 180.5,118.12 180.9,118.35 181.4,117.74 181.8,116.91 182.3,117.65 182.7,117.94 183.1,116.85 183.6,116.29 184.0,116.78 184.5,115.13 184.9,115.15 185.4,114.75 185.8,114.26 186.3,114.08 186.7,112.86 187.2,111.75 187.6,110.92 188.1,110.81 188.5,110.46 188.9,110.15 189.4,109.59 189.8,108.44 190.3,109.25 190.7,108.84 191.2,110.06 191.6,109.85 192.1,110.50 192.5,111.12 193.0,112.62 193.4,112.95 193.9,115.07 194.3,115.17 194.7,114.90 195.2,116.14 195.6,117.31 196.1,117.82 196.5,118.31 197.0,118.66 197.4,118.32 197.9,118.74 198.3,120.15 198.8,119.83 199.2,120.41 199.7,120.94 200.1,120.04 200.5,120.24 201.0,121.52 201.4,121.19 201.9,121.45 202.3,122.27 202.8,121.77 203.2,121.99 203.7,122.27 204.1,121.48 204.6,123.15 205.0,122.65 205.5,122.32 205.9,123.18 206.3,122.34 206.8,122.54 207.2,122.38 207.7,122.91 208.1,122.76 208.6,123.29 209.0,122.95 209.5,123.44 209.9,123.59 210.4,123.64 210.8,123.70 211.3,123.64 211.7,123.30 212.1,122.84 212.6,123.96 213.0,123.24 213.5,124.09 213.9,123.97 214.4,124.04 214.8,124.12 215.3,124.44 215.7,123.81 216.2,124.45 216.6,124.85 217.1,124.78 217.5,124.98 217.9,124.42 218.4,124.57 218.8,125.50 219.3,124.94 219.7,124.89 220.2,125.28 220.6,124.49 221.1,124.87 221.5,125.18 222.0,125.01 222.4,125.77 222.9,125.33 223.3,125.58 223.7,124.86 224.2,125.27 224.6,125.31 225.1,125.60 225.5,125.62 226.0,125.44 226.4,125.74 226.9,126.46 227.3,125.57 227.8,125.30 228.2,126.17 228.7,126.33 229.1,125.78 229.5,126.16 230.0,124.84 230.4,126.01 230.9,125.74 231.3,126.84 231.8,125.99 232.2,126.74 232.7,125.86 233.1,125.85 233.6,125.76 234.0,125.50 234.5,125.80 234.9,126.58 235.3,125.43 235.8,126.18 236.2,126.66 236.7,126.31 237.1,126.45 237.6,126.40 238.0,126.50 238.5,125.44 238.9,126.99 239.4,126.50 239.8,126.12 240.2,126.26 240.7,126.35 241.1,126.74 241.6,125.93 242.0,125.92 242.5,125.92 242.9,126.93 243.4,126.14 243.8,126.63 244.3,126.08 244.7,126.59 245.2,126.41 245.6,126.33 246.0,127.18 246.5,126.74 246.9,126.29 247.4,127.81 247.8,126.34 248.3,126.25 248.7,126.05 249.2,127.54 249.6,126.93 250.1,127.00 250.5,127.37 251.0,126.95 251.4,127.23 251.8,127.68 252.3,127.06 252.7,127.33 253.2,127.08 253.6,127.07 254.1,127.66 254.5,127.30 255.0,127.18 255.4,126.22 255.9,126.69 256.3,126.79 256.8,127.11 257.2,127.30 257.6,127.22 258.1,127.10 258.5,127.34 259.0,127.36 259.4,127.62 259.9,126.44 260.3,127.70 260.8,128.14 261.2,127.79 261.7,127.10 262.1,126.91 262.6,127.30 263.0,127.95 263.4,127.48 263.9,126.48 264.3,125.92 264.8,127.50 265.2,128.49 265.7,126.72 266.1,127.17 266.6,127.47 267.0,127.61 267.5,127.88 267.9,126.79 268.4,127.56 268.8,127.23 269.2,127.91 269.7,127.72 270.1,128.06 270.6,127.02 271.0,127.08 271.5,127.26 271.9,127.38 272.4,127.28 272.8,127.04 273.3,127.34 273.7,126.88 274.2,128.06 274.6,127.39 275.0,127.04 275.5,127.69 275.9,126.89 276.4,127.77 276.8,127.45 277.3,128.38 277.7,127.84 278.2,127.25 278.6,127.99 279.1,127.64 279.5,127.88 280.0,126.19 280.4,127.36 280.8,127.35 281.3,128.12 281.7,127.05 282.2,127.68 282.6,127.43 283.1,126.88 283.5,127.23 284.0,127.71 284.4,127.37 284.9,127.36 285.3,127.39 285.8,127.45 286.2,127.53 286.6,127.34 287.1,126.69 287.5,127.24 288.0,127.35 288.4,128.03 288.9,126.81 289.3,127.94 289.8,126.96 290.2,127.88 290.7,126.21 291.1,126.96 291.6,125.98 292.0,126.33 292.4,126.73 292.9,127.08 293.3,126.45 293.8,126.84 294.2,126.28 294.7,127.29 295.1,126.22 295.6,127.27 296.0,127.10 296.5,125.77 296.9,126.31 297.4,125.76 297.8,126.51 298.2,125.88 298.7,126.44 299.1,125.43 299.6,125.27 300.0,124.94 300.5,125.24 300.9,125.26 301.4,125.01 301.8,125.01 302.3,125.12 302.7,124.66 303.2,124.32 303.6,124.08 304.0,124.20 304.5,124.23 304.9,124.78 305.4,124.68 305.8,123.90 306.3,124.46 306.7,123.77 307.2,124.54 307.6,123.44 308.1,124.62 308.5,124.12 309.0,124.35 309.4,124.24 309.8,123.87 310.3,124.46 310.7,124.47 311.2,124.88 311.6,124.90 312.1,125.26 312.5,125.04 313.0,124.37 313.4,125.33 313.9,124.53 314.3,124.85 314.8,125.31 315.2,125.01 315.6,125.32 316.1,126.06 316.5,125.44 317.0,125.43 317.4,125.37 317.9,127.33 318.3,125.97 318.8,126.30 319.2,126.42 319.7,127.00 320.1,126.35 320.6,126.30 321.0,126.63 321.4,126.54 321.9,126.33 322.3,126.22 322.8,127.16 323.2,127.04 323.7,127.93 324.1,127.15 324.6,127.29 325.0,128.07 325.5,126.84 325.9,128.02 326.3,127.36 326.8,127.29 327.2,128.03 327.7,127.97 328.1,127.46 328.6,128.14 329.0,128.77 329.5,128.49 329.9,128.21 330.4,127.95 330.8,128.19 331.3,128.47 331.7,128.19 332.1,128.51 332.6,128.77 333.0,127.69 333.5,128.44 333.9,128.61 334.4,128.28 334.8,128.12 335.3,129.10 335.7,128.40 336.2,128.41 336.6,128.22 337.1,128.34 337.5,128.35 337.9,128.45 338.4,127.83 338.8,127.79 339.3,128.25 339.7,128.38 340.2,128.29 340.6,128.88 341.1,128.55 341.5,128.90 342.0,128.69 342.4,127.59 342.9,128.82 343.3,129.26 343.7,128.69 344.2,128.60 344.6,128.12 345.1,128.75 345.5,128.19 346.0,127.88 346.4,128.77 346.9,129.05 347.3,128.56 347.8,128.61 348.2,128.40 348.7,129.42 349.1,128.88 349.5,128.56 350.0,128.59 350.4,128.79 350.9,129.22 351.3,128.50 351.8,128.35 352.2,128.89 352.7,128.70 353.1,128.10 353.6,128.71 354.0,128.63 354.5,128.59 354.9,128.84 355.3,128.89 355.8,129.53 356.2,129.07 356.7,129.17 357.1,128.59 357.6,128.80 358.0,128.50 358.5,128.49 358.9,129.18 359.4,129.78 359.8,129.12 360.3,128.99 360.7,129.05 361.1,129.17 361.6,128.79 362.0,128.79 362.5,129.10 362.9,129.54 363.4,128.86 363.8,128.09 364.3,129.18 364.7,128.92 365.2,128.48 365.6,128.46 366.1,127.42 366.5,128.49"/>
<polyline points="27.9,96.02 28.3,96.34 28.8,96.09 29.2,95.67 29.7,95.92 30.1,96.12 30.6,96.36 31.0,96.22 31.5,96.46 31.9,95.22 32.4,96.16 32.8,96.19 33.3,95.64 33.7,96.14 34.1,95.81 34.6,95.49 35.0,95.45 35.5,96.26 35.9,96.27 36.4,96.49 36.8,96.33 37.3,96.21 37.7,95.50 38.2,95.88 38.6,95.84 39.1,96.85 39.5,95.56 39.9,95.36 40.4,95.48 40.8,96.37 41.3,95.62 41.7,96.22 42.2,95.66 42.6,96.34 43.1,95.18 43.5,95.66 44.0,96.11 44.4,95.73 44.9,95.42 45.3,96.45 45.7,95.18 46.2,95.41 46.6,96.29 47.1,96.53 47.5,95.75 48.0,95.18 48.4,95.16 48.9,95.34 49.3,95.67 49.8,96.29 50.2,96.09 50.7,96.10 51.1,95.44 51.5,95.98 52.0,95.99 52.4,96.00 52.9,95.61 53.3,95.42 53.8,96.08 54.2,96.27 54.7,95.46 55.1,95.71 55.6,96.02 56.0,96.20 56.5,96.29 56.9,95.51 57.3,96.05 57.8,94.94 58.2,94.48 58.7,95.25 59.1,95.58 59.6,94.74 60.0,95.33 60.5,95.46 60.9,95.35 61.4,95.47 61.8,95.83 62.3,95.20 62.7,95.09 63.1,95.52 63.6,95.74 64.0,95.05 64.5,95.84 64.9,95.54 65.4,95.03 65.8,95.16 66.3,94.81 66.7,95.44 67.2,95.17 67.6,95.98 68.1,93.93 68.5,94.52 68.9,94.81 69.4,95.25 69.8,94.84 70.3,94.66 70.7,95.15 71.2,94.75 71.6,95.02 72.1,95.29 72.5,95.30 73.0,94.16 73.4,94.50 73.8,95.00 74.3,94.70 74.7,94.41 75.2,95.00 75.6,94.74 76.1,94.88 76.5,95.05 77.0,94.46 77.4,95.05 77.9,94.65 78.3,94.66 78.8,94.97 79.2,93.78 79.6,93.73 80.1,93.92 80.5,94.78 81.0,94.42 81.4,94.09 81.9,93.84 82.3,93.51 82.8,94.35 83.2,94.18 83.7,94.32 84.1,94.51 84.6,94.19 85.0,94.62 85.4,93.81 85.9,94.61 86.3,94.09 86.8,93.62 87.2,93.89 87.7,94.72 88.1,93.16 88.6,93.40 89.0,93.43 89.5,93.65 89.9,93.55 90.4,94.29 90.8,93.33 91.2,93.66 91.7,93.09 92.1,92.77 92.6,93.14 93.0,93.05 93.5,93.40 93.9,93.63 94.4,92.79 94.8,93.41 95.3,92.43 95.7,93.59 96.2,92.12 96.6,92.48 97.0,92.76 97.5,92.42 97.9,92.03 98.4,92.78 98.8,91.97 99.3,92.77 99.7,91.65 100.2,92.68 100.6,92.53 101.1,92.34 101.5,92.50 102.0,91.90 102.4,91.90 102.8,92.37 103.3,91.34 103.7,91.62 104.2,91.58 104.6,91.51 105.1,91.42 105.5,90.41 106.0,91.40 106.4,91.47 106.9,91.82 107.3,91.56 107.8,90.88 108.2,90.95 108.6,90.59 109.1,90.77 109.5,90.59 110.0,91.26 110.4,90.88 110.9,90.90 111.3,90.40 111.8,90.42 112.2,90.64 112.7,89.99 113.1,90.49 113.6,90.57 114.0,89.85 114.4,90.02 114.9,89.57 115.3,90.59 115.8,89.98 116.2,90.19 116.7,89.53 117.1,89.16 117.6,89.42 118.0,89.98 118.5,90.01 118.9,89.55 119.4,89.12 119.8,89.22 120.2,89.43 120.7,88.42 121.1,89.17 121.6,88.34 122.0,88.72 122.5,88.84 122.9,88.55 123.4,88.38 123.8,88.82 124.3,87.99 124.7,87.92 125.2,87.57 125.6,87.97 126.0,88.12 126.5,87.65 126.9,86.77 127.4,87.71 127.8,87.69 128.3,86.95 128.7,87.13 129.2,87.14 129.6,86.70 130.1,87.05 130.5,86.87 131.0,86.23 131.4,85.42 131.8,86.11 132.3,87.02 132.7,86.82 133.2,86.04 133.6,85.59 134.1,86.57 134.5,86.12 135.0,86.24 135.4,86.38 135.9,85.63 136.3,85.35 136.8,84.85 137.2,85.12 137.6,84.50 138.1,85.27 138.5,84.58 139.0,85.24 139.4,84.28 139.9,84.51 140.3,83.86 140.8,84.47 141.2,83.62 141.7,84.44 142.1,84.02 142.6,82.88 143.0,82.99 143.4,83.61 143.9,83.40 144.3,84.23 144.8,82.89 145.2,83.12 145.7,83.14 146.1,83.17 146.6,83.76 147.0,82.90 147.5,82.17 147.9,83.48 148.4,82.90 148.8,81.98 149.2,82.25 149.7,82.31 150.1,82.41 150.6,82.61 151.0,82.05 151.5,81.83 151.9,81.54 152.4,81.83 152.8,81.89 153.3,82.05 153.7,80.90 154.2,81.49 154.6,82.13 155.0,82.70 155.5,82.40 155.9,81.03 156.4,81.20 156.8,82.31 157.3,82.07 157.7,82.06 158.2,82.85 158.6,81.46 159.1,82.36 159.5,81.77 159.9,81.31 160.4,80.47 160.8,80.64 161.3,81.57 161.7,80.63 162.2,80.59 162.6,80.09 163.1,79.33 163.5,79.31 164.0,78.62 164.4,77.94 164.9,77.47 165.3,76.94 165.7,77.16 166.2,76.86 166.6,77.50 167.1,77.11 167.5,77.21 168.0,77.25 168.4,78.94 168.9,80.28 169.3,79.75 169.8,79.36 170.2,81.30 170.7,81.11 171.1,82.20 171.5,82.50 172.0,83.07 172.4,83.18 172.9,83.35 173.3,84.26 173.8,83.95 174.2,84.87 174.7,84.33 175.1,84.89 175.6,84.71 176.0,85.65 176.5,85.13 176.9,85.23 177.3,86.16 177.8,86.03 178.2,85.96 178.7,85.66 179.1,86.15 179.6,86.39 180.0,86.53 180.5,85.92 180.9,86.40 181.4,85.27 181.8,86.01 182.3,85.41 182.7,85.91 183.1,85.13 183.6,85.99 184.0,84.66 184.5,84.27 184.9,82.62 185.4,82.43 185.8,82.85 186.3,81.43 186.7,81.51 187.2,79.99 187.6,79.87 188.1,78.59 188.5,78.56 188.9,78.21 189.4,78.02 189.8,77.21 190.3,77.07 190.7,78.20 191.2,78.56 191.6,79.40 192.1,79.33 192.5,81.02 193.0,81.47 193.4,81.94 193.9,83.05 194.3,84.47 194.7,84.91 195.2,85.61 195.6,86.24 196.1,86.63 196.5,87.89 197.0,87.85 197.4,87.63 197.9,88.02 198.3,88.75 198.8,89.13 199.2,89.90 199.7,88.67 200.1,90.37 200.5,90.75 201.0,90.20 201.4,91.13 201.9,90.43 202.3,90.81 202.8,90.79 203.2,91.85 203.7,91.77 204.1,91.86 204.6,90.98 205.0,91.64 205.5,91.19 205.9,91.86 206.3,92.14 206.8,92.59 207.2,92.00 207.7,92.26 208.1,92.17 208.6,91.84 209.0,93.13 209.5,92.64 209.9,93.19 210.4,92.99 210.8,92.12 211.3,92.48 211.7,93.13 212.1,93.28 212.6,93.27 213.0,93.03 213.5,93.48 213.9,92.72 214.4,93.12 214.8,92.78 215.3,93.80 215.7,93.59 216.2,93.80 216.6,93.43 217.1,92.47 217.5,93.31 217.9,93.80 218.4,93.81 218.8,94.26 219.3,94.41 219.7,93.71 220.2,94.37 220.6,93.30 221.1,94.43 221.5,93.23 222.0,94.46 222.4,93.26 222.9,94.56 223.3,95.10 223.7,94.36 224.2,94.80 224.6,95.03 225.1,93.36 225.5,93.75 226.0,94.67 226.4,94.21 226.9,94.55 227.3,96.01 227.8,95.66 228.2,95.15 228.7,94.59 229.1,95.17 229.5,95.12 230.0,94.92 230.4,95.78 230.9,94.20 231.3,95.82 231.8,94.94 232.2,95.76 232.7,95.13 233.1,94.96 233.6,94.95 234.0,95.40 234.5,95.48 234.9,96.72 235.3,96.10 235.8,95.39 236.2,94.88 236.7,95.51 237.1,95.75 237.6,94.74 238.0,95.55 238.5,96.16 238.9,95.39 239.4,94.89 239.8,96.00 240.2,96.41 240.7,95.61 241.1,95.80 241.6,96.29 242.0,96.03 242.5,95.49 242.9,95.67 243.4,95.81 243.8,95.88 244.3,96.44 244.7,95.45 245.2,96.13 245.6,95.90 246.0,95.04 246.5,96.35 246.9,96.10 247.4,95.46 247.8,95.26 248.3,96.53 248.7,96.89 249.2,96.18 249.6,96.06 250.1,96.51 250.5,95.90 251.0,95.98 251.4,96.67 251.8,95.73 252.3,96.80 252.7,96.43 253.2,96.92 253.6,95.48 254.1,96.95 254.5,96.32 255.0,96.68 255.4,96.03 255.9,95.95 256.3,96.97 256.8,96.68 257.2,96.73 257.6,96.81 258.1,96.79 258.5,95.80 259.0,96.40 259.4,96.40 259.9,97.51 260.3,97.22 260.8,96.21 261.2,95.94 261.7,96.98 262.1,96.93 262.6,97.32 263.0,96.17 263.4,97.49 263.9,96.83 264.3,97.35 264.8,96.90 265.2,96.60 265.7,96.44 266.1,97.46 266.6,95.36 267.0,97.36 267.5,97.19 267.9,96.57 268.4,97.26 268.8,96.86 269.2,96.33 269.7,96.80 270.1,97.22 270.6,96.98 271.0,96.61 271.5,97.29 271.9,97.33 272.4,97.56 272.8,97.10 273.3,97.70 273.7,96.67 274.2,96.81 274.6,96.35 275.0,96.98 275.5,97.04 275.9,96.99 276.4,96.41 276.8,97.47 277.3,96.21 277.7,96.56 278.2,95.62 278.6,97.47 279.1,97.35 279.5,96.88 280.0,97.12 280.4,96.38 280.8,96.45 281.3,96.49 281.7,97.08 282.2,96.74 282.6,97.00 283.1,96.41 283.5,96.27 284.0,97.08 284.4,97.00 284.9,97.06 285.3,96.55 285.8,96.96 286.2,96.09 286.6,96.29 287.1,96.94 287.5,96.33 288.0,96.19 288.4,96.30 288.9,97.49 289.3,96.49 289.8,96.81 290.2,96.56 290.7,97.74 291.1,96.53 291.6,97.03 292.0,96.94 292.4,96.65 292.9,96.41 293.3,95.64 293.8,96.54 294.2,97.23 294.7,96.40 295.1,97.02 295.6,96.32 296.0,96.32 296.5,95.58 296.9,95.64 297.4,95.83 297.8,96.02 298.2,94.91 298.7,94.62 299.1,95.12 299.6,95.02 300.0,95.18 300.5,95.65 300.9,94.50 301.4,95.53 301.8,94.83 302.3,94.49 302.7,93.61 303.2,95.00 303.6,95.05 304.0,94.38 304.5,94.33 304.9,93.83 305.4,93.08 305.8,93.57 306.3,93.23 306.7,93.24 307.2,93.48 307.6,93.60 308.1,94.12 308.5,94.51 309.0,93.84 309.4,94.35 309.8,93.87 310.3,93.94 310.7,94.31 311.2,93.93 311.6,94.41 312.1,94.15 312.5,94.06 313.0,94.24 313.4,95.34 313.9,94.84 314.3,94.62 314.8,95.01 315.2,94.68 315.6,94.92 316.1,95.07 316.5,94.57 317.0,95.38 317.4,95.77 317.9,95.80 318.3,95.71 318.8,96.37 319.2,95.61 319.7,96.59 320.1,96.63 320.6,96.37 321.0,97.06 321.4,96.08 321.9,96.64 322.3,96.54 322.8,96.34 323.2,96.62 323.7,97.02 324.1,97.09 324.6,97.27 325.0,96.74 325.5,97.07 325.9,97.12 326.3,96.94 326.8,97.29 327.2,96.38 327.7,96.87 328.1,97.22 328.6,97.32 329.0,97.83 329.5,97.32 329.9,98.37 330.4,96.97 330.8,98.50 331.3,97.25 331.7,97.18 332.1,97.38 332.6,97.46 333.0,97.62 333.5,97.56 333.9,97.99 334.4,98.15 334.8,97.33 335.3,98.38 335.7,97.94 336.2,97.84 336.6,98.24 337.1,97.82 337.5,98.53 337.9,97.34 338.4,98.45 338.8,97.69 339.3,98.25 339.7,97.72 340.2,98.69 340.6,98.12 341.1,98.30 341.5,97.49 342.0,97.31 342.4,98.09 342.9,98.68 343.3,98.08 343.7,97.35 344.2,98.79 344.6,97.80 345.1,98.38 345.5,97.67 346.0,97.73 346.4,98.19 346.9,96.87 347.3,97.62 347.8,97.88 348.2,97.89 348.7,97.35 349.1,98.58 349.5,97.99 350.0,98.02 350.4,97.25 350.9,98.06 351.3,98.40 351.8,98.49 352.2,98.38 352.7,98.08 353.1,98.01 353.6,98.20 354.0,98.42 354.5,98.03 354.9,98.03 355.3,98.31 355.8,98.02 356.2,98.26 356.7,98.20 357.1,97.73 357.6,98.82 358.0,98.45 358.5,97.75 358.9,97.73 359.4,97.94 359.8,97.89 360.3,97.72 360.7,98.26 361.1,98.02 361.6,97.74 362.0,98.85 362.5,98.01 362.9,98.31 363.4,97.57 363.8,97.67 364.3,97.72 364.7,98.58 365.2,98.49 365.6,98.06 366.1,98.03 366.5,98.31"/>
<polyline points="27.9,64.94 28.3,65.20 28.8,65.73 29.2,64.90 29.7,65.57 30.1,65.23 30.6,65.34 31.0,65.18 31.5,65.61 31.9,65.61 32.4,65.45 32.8,64.47 33.3,65.23 33.7,65.68 34.1,64.69 34.6,64.44 35.0,65.01 35.5,65.45 35.9,64.51 36.4,65.20 36.8,64.91 37.3,65.00 37.7,65.18 38.2,64.90 38.6,64.71 39.1,65.02 39.5,65.61 39.9,65.17 40.4,65.19 40.8,64.45 41.3,64.61 41.7,64.23 42.2,65.21 42.6,65.23 43.1,64.95 43.5,65.09 44.0,64.53 44.4,64.53 44.9,65.21 45.3,64.47 45.7,65.08 46.2,65.34 46.6,64.07 47.1,64.17 47.5,65.29 48.0,64.95 48.4,65.18 48.9,65.21 49.3,64.31 49.8,65.32 50.2,65.01 50.7,64.83 51.1,64.49 51.5,64.17 52.0,63.96 52.4,63.63 52.9,63.87 53.3,63.88 53.8,64.28 54.2,63.85 54.7,63.35 55.1,64.19 55.6,63.17 56.0,63.90 56.5,64.33 56.9,63.31 57.3,63.42 57.8,63.91 58.2,64.50 58.7,63.81 59.1,63.64 59.6,63.92 60.0,62.99 60.5,63.07 60.9,64.01 61.4,64.03 61.8,63.91 62.3,63.67 62.7,63.77 63.1,62.75 63.6,63.01 64.0,63.29 64.5,63.86 64.9,63.48 65.4,63.37 65.8,62.81 66.3,63.34 66.7,63.42 67.2,63.46 67.6,63.11 68.1,64.04 68.5,62.57 68.9,63.46 69.4,62.44 69.8,62.40 70.3,63.25 70.7,62.71 71.2,62.51 71.6,62.83 72.1,63.91 72.5,62.46 73.0,62.54 73.4,63.20 73.8,62.35 74.3,63.63 74.7,61.94 75.2,62.37 75.6,62.87 76.1,62.28 76.5,62.11 77.0,61.65 77.4,62.18 77.9,62.58 78.3,62.02 78.8,61.65 79.2,62.64 79.6,62.38 80.1,62.20 80.5,61.79 81.0,61.45 81.4,62.30 81.9,61.76 82.3,61.51 82.8,61.54 83.2,61.74 83.7,61.88 84.1,61.44 84.6,61.22 85.0,60.82 85.4,61.14 85.9,61.11 86.3,61.28 86.8,61.07 87.2,60.77 87.7,60.90 88.1,61.17 88.6,60.78 89.0,60.68 89.5,60.58 89.9,60.47 90.4,60.71 90.8,60.76 91.2,60.29 91.7,60.27 92.1,60.46 92.6,60.55 93.0,60.76 93.5,59.48 93.9,60.39 94.4,59.72 94.8,60.14 95.3,60.21 95.7,60.55 96.2,59.43 96.6,60.04 97.0,58.44 97.5,59.47 97.9,58.39 98.4,58.98 98.8,58.73 99.3,58.51 99.7,59.08 100.2,58.53 100.6,58.43 101.1,58.52 101.5,58.57 102.0,58.96 102.4,58.47 102.8,58.18 103.3,57.77 103.7,58.71 104.2,58.51 104.6,58.59 105.1,57.95 105.5,58.71 106.0,58.35 106.4,59.05 106.9,57.80 107.3,58.27 107.8,58.55 108.2,57.65 108.6,57.68 109.1,57.39 109.5,57.42 110.0,57.83 110.4,57.49 110.9,56.86 111.3,58.36 111.8,56.87 112.2,57.63 112.7,57.07 113.1,57.28 113.6,57.16 114.0,57.19 114.4,57.12 114.9,57.46 115.3,56.32 115.8,55.96 116.2,55.73 116.7,55.49 117.1,56.55 117.6,55.47 118.0,55.46 118.5,56.21 118.9,55.90 119.4,55.99 119.8,54.68 120.2,55.23 120.7,55.04 121.1,55.64 121.6,55.56 122.0,55.68 122.5,55.97 122.9,56.89 123.4,55.04 123.8,55.51 124.3,55.53 124.7,55.01 125.2,54.54 125.6,55.29 126.0,55.23 126.5,55.01 126.9,54.36 127.4,53.61 127.8,54.07 128.3,55.00 128.7,54.92 129.2,53.86 129.6,54.35 130.1,54.74 130.5,54.68 131.0,53.59 131.4,53.85 131.8,53.82 132.3,53.28 132.7,54.47 133.2,52.82 133.6,53.71 134.1,53.90 134.5,53.57 135.0,53.61 135.4,52.19 135.9,53.13 136.3,53.16 136.8,53.07 137.2,52.27 137.6,52.67 138.1,52.32 138.5,53.24 139.0,52.24 139.4,52.39 139.9,52.30 140.3,52.21 140.8,52.99 141.2,52.81 141.7,52.26 142.1,51.88 142.6,51.77 143.0,51.07 143.4,51.88 143.9,51.93 144.3,51.66 144.8,51.27 145.2,52.17 145.7,51.93 146.1,51.62 146.6,52.21 147.0,51.57 147.5,52.23 147.9,51.29 148.4,51.41 148.8,51.03 149.2,51.67 149.7,51.02 150.1,51.39 150.6,51.24 151.0,50.82 151.5,52.13 151.9,51.62 152.4,51.02 152.8,51.51 153.3,51.30 153.7,50.97 154.2,52.02 154.6,51.61 155.0,51.55 155.5,51.56 155.9,51.68 156.4,51.78 156.8,51.60 157.3,51.62 157.7,51.63 158.2,50.93 158.6,51.54 159.1,52.17 159.5,52.29 159.9,51.66 160.4,51.15 160.8,51.87 161.3,50.95 161.7,50.71 162.2,50.38 162.6,49.91 163.1,51.46 163.5,50.43 164.0,48.92 164.4,49.62 164.9,49.04 165.3,50.05 165.7,49.30 166.2,49.26 166.6,49.97 167.1,50.58 167.5,49.75 168.0,50.36 168.4,50.26 168.9,51.45 169.3,51.49 169.8,51.78 170.2,51.69 170.7,53.04 171.1,52.55 171.5,53.50 172.0,53.80 172.4,53.00 172.9,53.67 173.3,54.11 173.8,53.74 174.2,54.39 174.7,54.77 175.1,54.08 175.6,54.86 176.0,55.30 176.5,55.10 176.9,55.18 177.3,54.94 177.8,55.68 178.2,55.85 178.7,55.78 179.1,56.49 179.6,55.92 180.0,55.74 180.5,56.69 180.9,56.20 181.4,56.34 181.8,56.36 182.3,55.47 182.7,55.18 183.1,56.24 183.6,54.52 184.0,55.00 184.5,55.81 184.9,54.64 185.4,55.11 185.8,54.26 186.3,55.53 186.7,54.28 187.2,54.55 187.6,53.48 188.1,54.32 188.5,54.25 188.9,53.73 189.4,54.28 189.8,53.96 190.3,54.36 190.7,54.12 191.2,54.36 191.6,54.26 192.1,55.28 192.5,55.29 193.0,55.39 193.4,56.76 193.9,56.37 194.3,56.64 194.7,56.71 195.2,57.79 195.6,57.77 196.1,57.65 196.5,58.23 197.0,58.90 197.4,58.99 197.9,59.75 198.3,59.96 198.8,60.75 199.2,59.73 199.7,60.25 200.1,60.39 200.5,60.61 201.0,60.96 201.4,60.97 201.9,61.72 202.3,60.95 202.8,61.70 203.2,62.12 203.7,62.44 204.1,62.13 204.6,62.41 205.0,62.42 205.5,62.74 205.9,62.55 206.3,63.06 206.8,63.44 207.2,63.87 207.7,62.88 208.1,63.49 208.6,63.31 209.0,63.46 209.5,63.14 209.9,63.46 210.4,63.73 210.8,63.55 211.3,63.41 211.7,64.19 212.1,63.76 212.6,63.65 213.0,63.80 213.5,63.74 213.9,63.55 214.4,64.15 214.8,63.85 215.3,63.44 215.7,64.48 216.2,63.91 216.6,63.45 217.1,64.09 217.5,63.84 217.9,64.27 218.4,63.69 218.8,64.06 219.3,63.54 219.7,63.69 220.2,64.37 220.6,64.10 221.1,65.05 221.5,64.07 222.0,64.50 222.4,63.88 222.9,65.14 223.3,64.52 223.7,63.84 224.2,64.65 224.6,64.35 225.1,65.55 225.5,65.11 226.0,64.30 226.4,64.98 226.9,64.91 227.3,64.56 227.8,64.59 228.2,64.65 228.7,64.36 229.1,64.94 229.5,64.61 230.0,64.82 230.4,64.72 230.9,64.59 231.3,65.79 231.8,65.08 232.2,65.28 232.7,66.20 233.1,65.01 233.6,64.73 234.0,64.31 234.5,64.46 234.9,65.39 235.3,64.52 235.8,64.25 236.2,65.20 236.7,65.17 237.1,65.98 237.6,64.60 238.0,65.73 238.5,64.26 238.9,65.88 239.4,65.46 239.8,64.94 240.2,65.93 240.7,65.48 241.1,65.69 241.6,65.46 242.0,65.97 242.5,65.78 242.9,65.08 243.4,65.14 243.8,65.17 244.3,65.92 244.7,65.86 245.2,65.73 245.6,65.53 246.0,65.39 246.5,65.82 246.9,66.05 247.4,66.05 247.8,66.45 248.3,66.51 248.7,65.60 249.2,66.90 249.6,66.46 250.1,65.95 250.5,65.99 251.0,66.09 251.4,65.63 251.8,65.58 252.3,65.92 252.7,65.75 253.2,64.66 253.6,66.22 254.1,65.11 254.5,66.12 255.0,65.83 255.4,65.72 255.9,66.35 256.3,65.66 256.8,65.61 257.2,66.18 257.6,66.16 258.1,65.76 258.5,65.75 259.0,65.77 259.4,66.25 259.9,66.31 260.3,66.49 260.8,66.09 261.2,65.75 261.7,66.48 262.1,67.34 262.6,66.90 263.0,65.74 263.4,66.55 263.9,66.16 264.3,66.18 264.8,66.12 265.2,65.88 265.7,65.58 266.1,66.46 266.6,65.83 267.0,66.04 267.5,66.12 267.9,66.35 268.4,66.12 268.8,66.26 269.2,66.14 269.7,66.45 270.1,66.50 270.6,67.00 271.0,66.61 271.5,66.11 271.9,66.62 272.4,66.78 272.8,66.12 273.3,66.13 273.7,65.38 274.2,67.05 274.6,66.45 275.0,66.99 275.5,65.71 275.9,65.34 276.4,66.52 276.8,66.01 277.3,66.46 277.7,66.04 278.2,66.74 278.6,66.23 279.1,66.30 279.5,66.58 280.0,66.16 280.4,66.19 280.8,66.91 281.3,66.30 281.7,66.44 282.2,66.55 282.6,66.37 283.1,66.54 283.5,67.16 284.0,66.78 284.4,65.66 284.9,65.30 285.3,65.88 285.8,65.21 286.2,65.04 286.6,65.77 287.1,65.79 287.5,66.28 288.0,66.39 288.4,67.14 288.9,65.84 289.3,65.87 289.8,66.22 290.2,66.58 290.7,65.95 291.1,65.64 291.6,64.81 292.0,66.35 292.4,65.83 292.9,66.58 293.3,66.65 293.8,66.63 294.2,65.93 294.7,66.05 295.1,65.00 295.6,65.71 296.0,65.28 296.5,65.82 296.9,65.02 297.4,65.07 297.8,64.70 298.2,65.79 298.7,64.93 299.1,64.33 299.6,64.50 300.0,64.00 300.5,65.01 300.9,64.93 301.4,64.35 301.8,64.33 302.3,63.46 302.7,64.72 303.2,63.92 303.6,64.78 304.0,63.54 304.5,63.95 304.9,64.07 305.4,63.99 305.8,63.54 306.3,64.04 306.7,63.72 307.2,63.54 307.6,63.07 308.1,64.12 308.5,63.58 309.0,63.82 309.4,63.61 309.8,63.85 310.3,63.58 310.7,64.95 311.2,64.69 311.6,64.25 312.1,64.15 312.5,64.41 313.0,63.81 313.4,64.55 313.9,64.33 314.3,64.28 314.8,64.26 315.2,64.36 315.6,64.98 316.1,64.88 316.5,64.62 317.0,65.26 317.4,65.24 317.9,65.24 318.3,66.03 318.8,65.36 319.2,64.98 319.7,65.73 320.1,65.31 320.6,66.21 321.0,66.18 321.4,65.86 321.9,66.30 322.3,65.98 322.8,66.02 323.2,65.51 323.7,65.44 324.1,66.25 324.6,67.28 325.0,66.03 325.5,66.58 325.9,66.38 326.3,66.96 326.8,66.42 327.2,66.78 327.7,67.05 328.1,66.69 328.6,66.89 329.0,66.89 329.5,67.24 329.9,67.32 330.4,67.39 330.8,67.28 331.3,66.67 331.7,66.94 332.1,67.36 332.6,67.17 333.0,67.54 333.5,66.62 333.9,66.80 334.4,66.83 334.8,67.34 335.3,66.95 335.7,66.84 336.2,67.39 336.6,67.08 337.1,66.79 337.5,67.46 337.9,67.24 338.4,67.51 338.8,67.55 339.3,67.05 339.7,67.20 340.2,67.28 340.6,67.63 341.1,67.33 341.5,67.81 342.0,67.13 342.4,67.37 342.9,67.95 343.3,66.78 343.7,66.85 344.2,67.71 344.6,67.74 345.1,67.85 345.5,67.79 346.0,67.88 346.4,67.23 346.9,67.46 347.3,67.70 347.8,66.94 348.2,66.92 348.7,67.22 349.1,67.91 349.5,67.81 350.0,66.93 350.4,67.25 350.9,67.26 351.3,67.54 351.8,67.59 352.2,67.52 352.7,67.12 353.1,67.99 353.6,67.97 354.0,67.08 354.5,67.46 354.9,68.00 355.3,67.69 355.8,67.75 356.2,67.36 356.7,68.16 357.1,67.09 357.6,67.95 358.0,68.32 358.5,67.24 358.9,68.14 359.4,67.93 359.8,67.30 360.3,67.64 360.7,68.19 361.1,67.39 361.6,67.39 362.0,66.36 362.5,66.87 362.9,67.42 363.4,67.53 363.8,67.84 364.3,67.96 364.7,68.43 365.2,67.89 365.6,68.85 366.1,67.92 366.5,68.18"/>
</g>
<g font-family='"DejaVu Sans", "Liberation Sans", sans-serif' font-size="12" fill="#111" text-anchor="end">
<text x="69.8" y="306.5">25°C</text>
<text x="69.8" y="275.8">50°C</text>
<text x="69.8" y="245.0">70°C</text>
<text x="69.8" y="214.2">100°C</text>
<text x="69.8" y="183.5">120°C</text>
<text x="69.8" y="152.7">140°C</text>
<text x="69.8" y="122.0">150°C</text>
<text x="69.8" y="91.2">160°C</text>
<text x="69.8" y="60.5">170°C</text>
</g>
<g font-family='"DejaVu Sans", "Liberation Sans", sans-serif' font-size="10.7" fill="#111" text-anchor="middle">
<text x="169" y="32.2">(020)</text>
<text x="157.8" y="45.2">(100)</text>
<text x="195.2" y="47.8">(110)</text>
</g>
<g stroke="#333" stroke-width="1">
<line x1="27.9" y1="320.5" x2="366.5" y2="320.5"/>
<line x1="27.9" y1="381.4" x2="366.5" y2="381.4"/>
</g>
<g stroke="#1a1a1a" stroke-width="1.15">
<line x1="159.9" y1="366.2" x2="159.9" y2="381.4"/>
<line x1="168.8" y1="368.7" x2="168.8" y2="381.4"/>
<line x1="198.3" y1="347.7" x2="198.3" y2="381.4"/>
<line x1="218.2" y1="380.0" x2="218.2" y2="381.4"/>
<line x1="293.6" y1="376.2" x2="293.6" y2="381.4"/>
<line x1="309.9" y1="355.6" x2="309.9" y2="381.4"/>
<line x1="330.5" y1="374.0" x2="330.5" y2="381.4"/>
<line x1="168.8" y1="440.2" x2="168.8" y2="448.5"/>
<line x1="194.9" y1="415.0" x2="194.9" y2="448.5"/>
<line x1="218.2" y1="447.0" x2="218.2" y2="448.5"/>
<line x1="309.9" y1="432.4" x2="309.9" y2="448.5"/>
<line x1="330.5" y1="442.7" x2="330.5" y2="448.5"/>
</g>
<g font-family='"DejaVu Sans", "Liberation Sans", sans-serif' font-size="10.7" fill="#111" text-anchor="middle">
<text x="161" y="348.1">(100)</text>
<text x="168.8" y="361.6">(020)</text>
<text x="198" y="341.4">(110)</text>
<text x="219" y="374.1">(011)</text>
<text x="292.8" y="369.1">(120)</text>
<text x="310" y="348.1">(021)</text>
<text x="330" y="367.0">(111)</text>
<text x="168.8" y="432.4">(020)</text>
<text x="198" y="409.4">(110)</text>
<text x="219" y="440.2">(011)</text>
<text x="306.7" y="421.7">(021)</text>
<text x="330" y="438.4">(111)</text>
</g>
<g font-family='"Liberation Sans", "DejaVu Sans", sans-serif' font-size="13" fill="#111">
<text x="35" y="341.4" textLength="48" lengthAdjust="spacingAndGlyphs">α-PVDF</text>
<text x="35" y="400.7" textLength="47.5" lengthAdjust="spacingAndGlyphs">δ-PVDF</text>
</g>
<path d="M27.9,448.5 L27.9,1.5 L366.5,1.5 L366.5,448.5" fill="none" stroke="#1a1a1a" stroke-width="1.15"/>
<line x1="27.299999999999997" y1="448.5" x2="367.1" y2="448.5" stroke="#111" stroke-width="1.5"/>
<g stroke="#111" stroke-width="1.3">
<line x1="27.90" y1="448.5" x2="27.90" y2="451.7"/>
<line x1="44.83" y1="448.5" x2="44.83" y2="451.1"/>
<line x1="61.76" y1="448.5" x2="61.76" y2="451.1"/>
<line x1="78.69" y1="448.5" x2="78.69" y2="451.1"/>
<line x1="95.62" y1="448.5" x2="95.62" y2="451.1"/>
<line x1="112.55" y1="448.5" x2="112.55" y2="451.7"/>
<line x1="129.48" y1="448.5" x2="129.48" y2="451.1"/>
<line x1="146.41" y1="448.5" x2="146.41" y2="451.1"/>
<line x1="163.34" y1="448.5" x2="163.34" y2="451.1"/>
<line x1="180.27" y1="448.5" x2="180.27" y2="451.1"/>
<line x1="197.20" y1="448.5" x2="197.20" y2="451.7"/>
<line x1="214.13" y1="448.5" x2="214.13" y2="451.1"/>
<line x1="231.06" y1="448.5" x2="231.06" y2="451.1"/>
<line x1="247.99" y1="448.5" x2="247.99" y2="451.1"/>
<line x1="264.92" y1="448.5" x2="264.92" y2="451.1"/>
<line x1="281.85" y1="448.5" x2="281.85" y2="451.7"/>
<line x1="298.78" y1="448.5" x2="298.78" y2="451.1"/>
<line x1="315.71" y1="448.5" x2="315.71" y2="451.1"/>
<line x1="332.64" y1="448.5" x2="332.64" y2="451.1"/>
<line x1="349.57" y1="448.5" x2="349.57" y2="451.1"/>
<line x1="366.50" y1="448.5" x2="366.50" y2="451.7"/>
</g>
<text transform="translate(27.9,464.9) scale(0.93,1)" font-family='"Liberation Sans", "DejaVu Sans", sans-serif' font-size="16.2" fill="#0a0a0a" text-anchor="middle">10</text>
<text transform="translate(112.6,464.9) scale(0.93,1)" font-family='"Liberation Sans", "DejaVu Sans", sans-serif' font-size="16.2" fill="#0a0a0a" text-anchor="middle">15</text>
<text transform="translate(197.2,464.9) scale(0.93,1)" font-family='"Liberation Sans", "DejaVu Sans", sans-serif' font-size="16.2" fill="#0a0a0a" text-anchor="middle">20</text>
<text transform="translate(281.8,464.9) scale(0.93,1)" font-family='"Liberation Sans", "DejaVu Sans", sans-serif' font-size="16.2" fill="#0a0a0a" text-anchor="middle">25</text>
<text transform="translate(366.5,464.9) scale(0.93,1)" font-family='"Liberation Sans", "DejaVu Sans", sans-serif' font-size="16.2" fill="#0a0a0a" text-anchor="middle">30</text>
<text x="192.4" y="487.6" font-family='"DejaVu Sans", "Liberation Sans", sans-serif' font-weight="bold" font-size="13.7" fill="#111" text-anchor="middle">2θ(°) Cu(K<tspan font-size="11.2" dy="3.1">α</tspan><tspan dy="-3.1">)</tspan></text>
<text transform="translate(11.4,191.8) rotate(-90)" font-family='"Liberation Sans", "DejaVu Sans", sans-serif' font-weight="bold" font-size="13.6" fill="#111" text-anchor="middle">Intensity (a.u)</text>
<text x="360.4" y="26.2" font-family='"DejaVu Sans", "Liberation Sans", sans-serif' font-size="20" fill="#111" text-anchor="end">a)</text>
<clipPath id="cb"><rect x="420.3" y="1.5" width="244.2" height="198.7"/></clipPath>
<polyline points="420.4,22.20 421.5,22.92 422.7,23.63 423.8,24.32 425.0,24.98 426.1,25.64 427.3,26.27 428.4,26.89 429.6,27.48 430.7,28.07 431.9,28.63 433.0,29.19 434.2,29.72 435.3,30.24 436.5,30.74 437.6,31.23 438.8,31.71 439.9,32.17 441.1,32.61 442.2,33.04 443.4,33.46 444.5,33.85 445.7,34.22 446.8,34.56 448.0,34.88 449.1,35.16 450.3,35.42 451.4,35.64 452.6,35.84 453.7,36.00 454.8,36.14 456.0,36.24 457.1,36.32 458.3,36.37 459.4,36.40 460.6,36.41 461.7,36.39 462.9,36.34 464.0,36.28 465.2,36.20 466.3,36.10 467.5,35.98 468.6,35.85 469.8,35.70 470.9,35.54 472.1,35.37 473.2,35.19 474.4,35.00 475.5,34.81 476.7,34.62 477.8,34.43 479.0,34.24 480.1,34.06 481.3,33.89 482.4,33.73 483.6,33.59 484.7,33.48 485.8,33.38 487.0,33.33 488.1,33.30 489.3,33.31 490.4,33.36 491.6,33.45 492.7,33.57 493.9,33.73 495.0,33.92 496.2,34.14 497.3,34.39 498.5,34.67 499.6,34.97 500.8,35.30 501.9,35.66 503.1,36.03 504.2,36.42 505.4,36.82 506.5,37.24 507.7,37.66 508.8,38.10 510.0,38.54 511.1,38.99 512.3,39.44 513.4,39.90 514.6,40.37 515.7,40.83 516.9,41.30 518.0,41.77 519.1,42.24 520.3,42.71 521.4,43.17 522.6,43.64 523.7,44.10 524.9,44.55 526.0,45.00 527.2,45.45 528.3,45.89 529.5,46.32 530.6,46.74 531.8,47.15 532.9,47.55 534.1,47.94 535.2,48.32 536.4,48.69 537.5,49.05 538.7,49.39 539.8,49.73 541.0,50.05 542.1,50.36 543.3,50.66 544.4,50.95 545.6,51.24 546.7,51.51 547.9,51.77 549.0,52.02 550.2,52.27 551.3,52.51 552.4,52.73 553.6,52.96 554.7,53.17 555.9,53.38 557.0,53.58 558.2,53.78 559.3,53.97 560.5,54.15 561.6,54.33 562.8,54.51 563.9,54.68 565.1,54.84 566.2,55.01 567.4,55.17 568.5,55.33 569.7,55.48 570.8,55.64 572.0,55.79 573.1,55.94 574.3,56.09 575.4,56.24 576.6,56.39 577.7,56.54 578.9,56.69 580.0,56.84 581.2,56.99 582.3,57.15 583.5,57.31 584.6,57.47 585.7,57.63 586.9,57.80 588.0,57.98 589.2,58.16 590.3,58.35 591.5,58.55 592.6,58.77 593.8,59.01 594.9,59.26 596.1,59.54 597.2,59.84 598.4,60.17 599.5,60.53 600.7,60.92 601.8,61.34 603.0,61.81 604.1,62.31 605.3,62.86 606.4,63.46 607.6,64.12 608.7,64.83 609.9,65.60 611.0,66.44 612.2,67.35 613.3,68.32 614.5,69.37 615.6,70.50 616.7,71.70 617.9,72.97 619.0,74.33 620.2,75.78 621.3,77.31 622.5,78.94 623.6,80.67 624.8,82.51 625.9,84.46 627.1,86.57 628.2,88.88 629.4,91.45 630.5,94.30 631.7,97.48 632.8,100.97 634.0,104.80 635.1,108.96 636.3,113.49 637.4,118.43 638.6,123.81 639.7,129.60 640.9,135.78 642.0,142.29 643.2,149.06 644.3,156.00 645.5,163.00 646.6,169.98 647.8,176.85 648.9,183.50" fill="none" stroke="#111" stroke-width="1.2"/>
<g fill="#000" clip-path="url(#cb)">
<circle cx="420.2" cy="22.0" r="3.5"/>
<circle cx="459.6" cy="42.2" r="3.5"/>
<circle cx="491.1" cy="27.1" r="3.5"/>
<circle cx="538.3" cy="51.2" r="3.5"/>
<circle cx="569.8" cy="54.7" r="3.5"/>
<circle cx="601.3" cy="60.0" r="3.5"/>
<circle cx="617.1" cy="72.5" r="3.5"/>
<circle cx="632.8" cy="96.1" r="3.5"/>
<circle cx="648.6" cy="184.0" r="3.5"/>
</g>
<rect x="420.3" y="1.5" width="244.2" height="198.7" fill="none" stroke="#111" stroke-width="1.3"/>
<g stroke="#111" stroke-width="1.15">
<line x1="416.40000000000003" y1="200.45" x2="420.3" y2="200.45"/>
<line x1="418.1" y1="187.17" x2="420.3" y2="187.17"/>
<line x1="416.40000000000003" y1="173.90" x2="420.3" y2="173.90"/>
<line x1="418.1" y1="160.62" x2="420.3" y2="160.62"/>
<line x1="416.40000000000003" y1="147.35" x2="420.3" y2="147.35"/>
<line x1="418.1" y1="134.07" x2="420.3" y2="134.07"/>
<line x1="416.40000000000003" y1="120.80" x2="420.3" y2="120.80"/>
<line x1="418.1" y1="107.52" x2="420.3" y2="107.52"/>
<line x1="416.40000000000003" y1="94.25" x2="420.3" y2="94.25"/>
<line x1="418.1" y1="80.97" x2="420.3" y2="80.97"/>
<line x1="416.40000000000003" y1="67.70" x2="420.3" y2="67.70"/>
<line x1="418.1" y1="54.42" x2="420.3" y2="54.42"/>
<line x1="416.40000000000003" y1="41.15" x2="420.3" y2="41.15"/>
<line x1="418.1" y1="27.88" x2="420.3" y2="27.88"/>
<line x1="416.40000000000003" y1="14.60" x2="420.3" y2="14.60"/>
<line x1="428.07" y1="200.2" x2="428.07" y2="202.39999999999998"/>
<line x1="443.82" y1="200.2" x2="443.82" y2="204.1"/>
<line x1="459.57" y1="200.2" x2="459.57" y2="202.39999999999998"/>
<line x1="475.32" y1="200.2" x2="475.32" y2="204.1"/>
<line x1="491.07" y1="200.2" x2="491.07" y2="202.39999999999998"/>
<line x1="506.82" y1="200.2" x2="506.82" y2="204.1"/>
<line x1="522.58" y1="200.2" x2="522.58" y2="202.39999999999998"/>
<line x1="538.33" y1="200.2" x2="538.33" y2="204.1"/>
<line x1="554.08" y1="200.2" x2="554.08" y2="202.39999999999998"/>
<line x1="569.83" y1="200.2" x2="569.83" y2="204.1"/>
<line x1="585.58" y1="200.2" x2="585.58" y2="202.39999999999998"/>
<line x1="601.33" y1="200.2" x2="601.33" y2="204.1"/>
<line x1="617.08" y1="200.2" x2="617.08" y2="202.39999999999998"/>
<line x1="632.83" y1="200.2" x2="632.83" y2="204.1"/>
<line x1="648.58" y1="200.2" x2="648.58" y2="202.39999999999998"/>
<line x1="664.33" y1="200.2" x2="664.33" y2="204.1"/>
</g>
<text transform="translate(414.3,178.5) scale(0.935,1)" font-family='"Liberation Sans", "DejaVu Sans", sans-serif' font-size="13.0" fill="#0a0a0a" text-anchor="end">10</text>
<text transform="translate(414.3,151.9) scale(0.935,1)" font-family='"Liberation Sans", "DejaVu Sans", sans-serif' font-size="13.0" fill="#0a0a0a" text-anchor="end">15</text>
<text transform="translate(414.3,125.4) scale(0.935,1)" font-family='"Liberation Sans", "DejaVu Sans", sans-serif' font-size="13.0" fill="#0a0a0a" text-anchor="end">20</text>
<text transform="translate(414.3,98.8) scale(0.935,1)" font-family='"Liberation Sans", "DejaVu Sans", sans-serif' font-size="13.0" fill="#0a0a0a" text-anchor="end">25</text>
<text transform="translate(414.3,72.3) scale(0.935,1)" font-family='"Liberation Sans", "DejaVu Sans", sans-serif' font-size="13.0" fill="#0a0a0a" text-anchor="end">30</text>
<text transform="translate(414.3,45.8) scale(0.935,1)" font-family='"Liberation Sans", "DejaVu Sans", sans-serif' font-size="13.0" fill="#0a0a0a" text-anchor="end">35</text>
<text transform="translate(414.3,19.2) scale(0.935,1)" font-family='"Liberation Sans", "DejaVu Sans", sans-serif' font-size="13.0" fill="#0a0a0a" text-anchor="end">40</text>
<text x="410.4" y="204.1" font-family='"Liberation Sans", "DejaVu Sans", sans-serif' font-size="5.6" font-weight="bold" fill="#333" text-anchor="end">5</text>
<text transform="translate(443.8,216.5) scale(0.945,1)" font-family='"Liberation Sans", "DejaVu Sans", sans-serif' font-size="12.9" fill="#0a0a0a" text-anchor="middle">40</text>
<text transform="translate(475.3,216.5) scale(0.945,1)" font-family='"Liberation Sans", "DejaVu Sans", sans-serif' font-size="12.9" fill="#0a0a0a" text-anchor="middle">60</text>
<text transform="translate(506.8,216.5) scale(0.945,1)" font-family='"Liberation Sans", "DejaVu Sans", sans-serif' font-size="12.9" fill="#0a0a0a" text-anchor="middle">80</text>
<text transform="translate(538.3,216.5) scale(0.945,1)" font-family='"Liberation Sans", "DejaVu Sans", sans-serif' font-size="12.9" fill="#0a0a0a" text-anchor="middle">100</text>
<text transform="translate(569.8,216.5) scale(0.945,1)" font-family='"Liberation Sans", "DejaVu Sans", sans-serif' font-size="12.9" fill="#0a0a0a" text-anchor="middle">120</text>
<text transform="translate(601.3,216.5) scale(0.945,1)" font-family='"Liberation Sans", "DejaVu Sans", sans-serif' font-size="12.9" fill="#0a0a0a" text-anchor="middle">140</text>
<text transform="translate(632.8,216.5) scale(0.945,1)" font-family='"Liberation Sans", "DejaVu Sans", sans-serif' font-size="12.9" fill="#0a0a0a" text-anchor="middle">160</text>
<text transform="translate(664.3,216.5) scale(0.945,1)" font-family='"Liberation Sans", "DejaVu Sans", sans-serif' font-size="12.9" fill="#0a0a0a" text-anchor="middle">180</text>
<text x="544.3" y="237.8" font-family='"Liberation Sans", "DejaVu Sans", sans-serif' font-weight="bold" font-size="14.6" fill="#111" text-anchor="middle" textLength="122.4" lengthAdjust="spacingAndGlyphs">Temperature (&#8201;°&#8201;C)</text>
<text transform="translate(394.9,99.8) rotate(-90)" font-family='"Liberation Sans", "DejaVu Sans", sans-serif' font-weight="bold" font-size="14.7" fill="#111" text-anchor="middle" textLength="111.8" lengthAdjust="spacingAndGlyphs">Crystallinity (%)</text>
<text x="657.5" y="25.9" font-family='"DejaVu Sans", "Liberation Sans", sans-serif' font-size="20" fill="#111" text-anchor="end">b)</text>
<polyline points="419.9,276.40 420.4,276.38 420.9,276.36 421.4,276.34 421.8,276.33 422.3,276.31 422.8,276.29 423.3,276.27 423.8,276.26 424.3,276.24 424.8,276.22 425.3,276.21 425.7,276.19 426.2,276.18 426.7,276.16 427.2,276.15 427.7,276.14 428.2,276.12 428.7,276.11 429.2,276.10 429.6,276.09 430.1,276.08 430.6,276.07 431.1,276.06 431.6,276.05 432.1,276.04 432.6,276.04 433.1,276.03 433.5,276.02 434.0,276.02 434.5,276.01 435.0,276.01 435.5,276.00 436.0,276.00 436.5,276.00 437.0,276.00 437.4,276.00 437.9,276.00 438.4,276.00 438.9,276.00 439.4,276.00 439.9,276.01 440.4,276.01 440.8,276.01 441.3,276.01 441.8,276.02 442.3,276.02 442.8,276.02 443.3,276.03 443.8,276.03 444.3,276.04 444.7,276.04 445.2,276.05 445.7,276.05 446.2,276.06 446.7,276.06 447.2,276.07 447.7,276.08 448.2,276.08 448.6,276.09 449.1,276.10 449.6,276.11 450.1,276.11 450.6,276.12 451.1,276.13 451.6,276.14 452.1,276.15 452.5,276.16 453.0,276.16 453.5,276.17 454.0,276.18 454.5,276.19 455.0,276.20 455.5,276.21 456.0,276.22 456.4,276.23 456.9,276.24 457.4,276.25 457.9,276.27 458.4,276.28 458.9,276.29 459.4,276.30 459.8,276.31 460.3,276.33 460.8,276.34 461.3,276.36 461.8,276.38 462.3,276.41 462.8,276.43 463.3,276.46 463.7,276.48 464.2,276.51 464.7,276.55 465.2,276.58 465.7,276.61 466.2,276.65 466.7,276.69 467.2,276.73 467.6,276.77 468.1,276.81 468.6,276.85 469.1,276.90 469.6,276.94 470.1,276.99 470.6,277.03 471.1,277.08 471.5,277.13 472.0,277.18 472.5,277.23 473.0,277.28 473.5,277.33 474.0,277.38 474.5,277.43 475.0,277.48 475.4,277.53 475.9,277.59 476.4,277.64 476.9,277.69 477.4,277.74 477.9,277.80 478.4,277.85 478.8,277.90 479.3,277.95 479.8,278.00 480.3,278.06 480.8,278.11 481.3,278.16 481.8,278.21 482.3,278.26 482.7,278.31 483.2,278.36 483.7,278.41 484.2,278.46 484.7,278.51 485.2,278.56 485.7,278.61 486.2,278.67 486.6,278.72 487.1,278.77 487.6,278.83 488.1,278.88 488.6,278.94 489.1,278.99 489.6,279.05 490.1,279.11 490.5,279.16 491.0,279.22 491.5,279.28 492.0,279.34 492.5,279.41 493.0,279.47 493.5,279.53 494.0,279.60 494.4,279.66 494.9,279.73 495.4,279.80 495.9,279.87 496.4,279.94 496.9,280.01 497.4,280.08 497.8,280.15 498.3,280.23 498.8,280.31 499.3,280.39 499.8,280.47 500.3,280.55 500.8,280.63 501.3,280.72 501.7,280.81 502.2,280.90 502.7,280.99 503.2,281.09 503.7,281.19 504.2,281.29 504.7,281.39 505.2,281.49 505.6,281.60 506.1,281.71 506.6,281.82 507.1,281.93 507.6,282.04 508.1,282.16 508.6,282.28 509.1,282.40 509.5,282.52 510.0,282.64 510.5,282.77 511.0,282.89 511.5,283.02 512.0,283.15 512.5,283.28 513.0,283.42 513.4,283.55 513.9,283.69 514.4,283.83 514.9,283.97 515.4,284.11 515.9,284.26 516.4,284.41 516.8,284.57 517.3,284.72 517.8,284.89 518.3,285.05 518.8,285.22 519.3,285.40 519.8,285.57 520.3,285.76 520.7,285.94 521.2,286.13 521.7,286.32 522.2,286.52 522.7,286.72 523.2,286.92 523.7,287.12 524.2,287.33 524.6,287.54 525.1,287.76 525.6,287.98 526.1,288.20 526.6,288.43 527.1,288.66 527.6,288.90 528.1,289.14 528.5,289.39 529.0,289.64 529.5,289.90 530.0,290.17 530.5,290.44 531.0,290.72 531.5,291.01 532.0,291.30 532.4,291.60 532.9,291.91 533.4,292.22 533.9,292.54 534.4,292.87 534.9,293.21 535.4,293.56 535.8,293.91 536.3,294.27 536.8,294.64 537.3,295.02 537.8,295.42 538.3,295.83 538.8,296.26 539.3,296.71 539.7,297.18 540.2,297.67 540.7,298.19 541.2,298.73 541.7,299.29 542.2,299.90 542.7,300.57 543.2,301.30 543.6,302.07 544.1,302.90 544.6,303.77 545.1,304.69 545.6,305.65 546.1,306.65 546.6,307.74 547.1,308.96 547.5,310.27 548.0,311.64 548.5,313.05 549.0,314.46 549.5,315.85 550.0,317.28 550.5,318.78 550.9,320.29 551.4,321.79 551.9,323.24 552.4,324.60 552.9,325.84 553.4,327.05 553.9,328.25 554.4,329.35 554.8,330.30 555.3,331.02 555.8,331.58 556.3,332.10 556.8,332.53 557.3,332.81 557.8,332.90 558.3,332.83 558.7,332.68 559.2,332.48 559.7,332.26 560.2,332.04 560.7,331.82 561.2,331.54 561.7,331.24 562.2,330.96 562.6,330.70 563.1,330.52 563.6,330.39 564.1,330.27 564.6,330.17 565.1,330.08 565.6,330.02 566.1,330.00 566.5,330.11 567.0,330.45 567.5,330.97 568.0,331.63 568.5,332.37 569.0,333.16 569.5,334.10 569.9,335.32 570.4,336.78 570.9,338.41 571.4,340.17 571.9,342.13 572.4,344.47 572.9,347.05 573.4,349.75 573.8,352.42 574.3,355.10 574.8,357.92 575.3,360.77 575.8,363.51 576.3,366.02 576.8,368.27 577.3,370.36 577.7,372.35 578.2,374.32 578.7,376.25 579.2,378.08 579.7,379.90 580.2,381.83 580.7,383.95 581.2,386.27 581.6,388.74 582.1,391.37 582.6,394.19 583.1,397.34 583.6,400.63 584.1,403.77 584.6,406.75 585.1,409.65 585.5,412.13 586.0,414.37 586.5,416.22 587.0,416.54 587.5,415.95 588.0,414.96 588.5,412.85 588.9,409.24 589.4,405.10 589.9,399.95 590.4,394.01 590.9,387.65 591.4,380.63 591.9,373.25 592.4,365.43 592.8,357.21 593.3,348.58 593.8,339.58 594.3,330.52 594.8,321.35 595.3,312.18 595.8,302.75 596.3,293.32 596.7,286.15 597.2,280.23 597.7,275.02 598.2,270.85 598.7,268.03 599.2,266.20 599.7,264.71 600.2,263.52 600.6,262.57 601.1,261.81 601.6,261.17 602.1,260.62 602.6,260.14 603.1,259.73 603.6,259.39 604.1,259.08 604.5,258.79 605.0,258.51 605.5,258.25 606.0,258.01 606.5,257.80 607.0,257.62 607.5,257.47 607.9,257.36 608.4,257.28 608.9,257.22 609.4,257.16 609.9,257.11 610.4,257.06 610.9,257.01 611.4,256.96 611.8,256.92 612.3,256.88 612.8,256.84 613.3,256.81 613.8,256.77 614.3,256.74 614.8,256.71 615.3,256.69 615.7,256.66 616.2,256.63 616.7,256.61 617.2,256.59 617.7,256.57 618.2,256.55 618.7,256.52 619.2,256.50 619.6,256.48 620.1,256.46 620.6,256.45 621.1,256.43 621.6,256.40 622.1,256.38 622.6,256.36 623.1,256.34 623.5,256.33 624.0,256.31 624.5,256.29 625.0,256.27 625.5,256.26 626.0,256.24 626.5,256.22 626.9,256.21 627.4,256.19 627.9,256.18 628.4,256.16 628.9,256.15 629.4,256.13 629.9,256.12 630.4,256.11 630.8,256.09 631.3,256.08 631.8,256.07 632.3,256.05 632.8,256.04 633.3,256.03 633.8,256.01 634.3,256.00 634.7,255.99 635.2,255.98 635.7,255.96 636.2,255.95 636.7,255.94 637.2,255.93 637.7,255.91 638.2,255.90 638.6,255.89 639.1,255.87 639.6,255.86 640.1,255.85 640.6,255.83 641.1,255.82 641.6,255.80 642.1,255.79 642.5,255.77 643.0,255.76 643.5,255.74 644.0,255.73 644.5,255.71 645.0,255.69 645.5,255.68 645.9,255.66 646.4,255.64 646.9,255.63 647.4,255.61 647.9,255.59 648.4,255.58 648.9,255.56 649.4,255.55 649.8,255.53 650.3,255.51 650.8,255.50 651.3,255.49 651.8,255.47 652.3,255.46 652.8,255.45 653.3,255.44 653.7,255.42 654.2,255.41 654.7,255.40 655.2,255.40 655.7,255.39 656.2,255.38 656.7,255.37 657.2,255.37 657.6,255.36 658.1,255.35 658.6,255.34 659.1,255.34 659.6,255.33 660.1,255.33 660.6,255.32 661.1,255.32 661.5,255.31 662.0,255.31 662.5,255.30 663.0,255.30" fill="none" stroke="#111" stroke-width="1.2" stroke-linejoin="round"/>
<rect x="419.9" y="254.8" width="243.39999999999998" height="198.2" fill="none" stroke="#111" stroke-width="1.3"/>
<g stroke="#111" stroke-width="1.15">
<line x1="416.0" y1="254.80" x2="419.9" y2="254.80"/>
<line x1="417.7" y1="279.57" x2="419.9" y2="279.57"/>
<line x1="416.0" y1="304.35" x2="419.9" y2="304.35"/>
<line x1="417.7" y1="329.12" x2="419.9" y2="329.12"/>
<line x1="416.0" y1="353.90" x2="419.9" y2="353.90"/>
<line x1="417.7" y1="378.68" x2="419.9" y2="378.68"/>
<line x1="416.0" y1="403.45" x2="419.9" y2="403.45"/>
<line x1="417.7" y1="428.23" x2="419.9" y2="428.23"/>
<line x1="416.0" y1="453.00" x2="419.9" y2="453.00"/>
<line x1="420.20" y1="453.0" x2="420.20" y2="456.9"/>
<line x1="440.45" y1="453.0" x2="440.45" y2="455.2"/>
<line x1="460.70" y1="453.0" x2="460.70" y2="456.9"/>
<line x1="480.95" y1="453.0" x2="480.95" y2="455.2"/>
<line x1="501.20" y1="453.0" x2="501.20" y2="456.9"/>
<line x1="521.45" y1="453.0" x2="521.45" y2="455.2"/>
<line x1="541.70" y1="453.0" x2="541.70" y2="456.9"/>
<line x1="561.95" y1="453.0" x2="561.95" y2="455.2"/>
<line x1="582.20" y1="453.0" x2="582.20" y2="456.9"/>
<line x1="602.45" y1="453.0" x2="602.45" y2="455.2"/>
<line x1="622.70" y1="453.0" x2="622.70" y2="456.9"/>
<line x1="642.95" y1="453.0" x2="642.95" y2="455.2"/>
<line x1="663.20" y1="453.0" x2="663.20" y2="456.9"/>
</g>
<text transform="translate(413.2,258.8) scale(0.97,1)" font-family='"Liberation Sans", "DejaVu Sans", sans-serif' font-size="11.0" fill="#0a0a0a" text-anchor="end">0.0</text>
<text transform="translate(413.2,308.4) scale(0.97,1)" font-family='"Liberation Sans", "DejaVu Sans", sans-serif' font-size="11.0" fill="#0a0a0a" text-anchor="end">-0.5</text>
<text transform="translate(413.2,357.9) scale(0.97,1)" font-family='"Liberation Sans", "DejaVu Sans", sans-serif' font-size="11.0" fill="#0a0a0a" text-anchor="end">-1.0</text>
<text transform="translate(413.2,407.4) scale(0.97,1)" font-family='"Liberation Sans", "DejaVu Sans", sans-serif' font-size="11.0" fill="#0a0a0a" text-anchor="end">-1.5</text>
<text transform="translate(413.2,457.0) scale(0.97,1)" font-family='"Liberation Sans", "DejaVu Sans", sans-serif' font-size="11.0" fill="#0a0a0a" text-anchor="end">-2.0</text>
<text transform="translate(420.2,468.1)" font-family='"Liberation Sans", "DejaVu Sans", sans-serif' font-size="10.7" fill="#0a0a0a" text-anchor="middle">120</text>
<text transform="translate(460.7,468.1)" font-family='"Liberation Sans", "DejaVu Sans", sans-serif' font-size="10.7" fill="#0a0a0a" text-anchor="middle">130</text>
<text transform="translate(501.2,468.1)" font-family='"Liberation Sans", "DejaVu Sans", sans-serif' font-size="10.7" fill="#0a0a0a" text-anchor="middle">140</text>
<text transform="translate(541.7,468.1)" font-family='"Liberation Sans", "DejaVu Sans", sans-serif' font-size="10.7" fill="#0a0a0a" text-anchor="middle">150</text>
<text transform="translate(582.2,468.1)" font-family='"Liberation Sans", "DejaVu Sans", sans-serif' font-size="10.7" fill="#0a0a0a" text-anchor="middle">160</text>
<text transform="translate(622.7,468.1)" font-family='"Liberation Sans", "DejaVu Sans", sans-serif' font-size="10.7" fill="#0a0a0a" text-anchor="middle">170</text>
<text transform="translate(663.2,468.1)" font-family='"Liberation Sans", "DejaVu Sans", sans-serif' font-size="10.7" fill="#0a0a0a" text-anchor="middle">180</text>
<g font-family='"Liberation Sans", "DejaVu Sans", sans-serif' font-weight="bold" font-size="11.1" fill="#111">
<text x="537.2" y="349" textLength="33.8" lengthAdjust="spacingAndGlyphs">154&#8201;°&#8201;C</text>
<text x="570.8" y="432.7" textLength="34.4" lengthAdjust="spacingAndGlyphs">161&#8201;°&#8201;C</text>
</g>
<text x="543.3" y="487.2" font-family='"Liberation Sans", "DejaVu Sans", sans-serif' font-weight="bold" font-size="12.9" fill="#111" text-anchor="middle" textLength="110" lengthAdjust="spacingAndGlyphs">Temperature (&#8201;°&#8201;C)</text>
<text transform="translate(390.8,349.5) rotate(-90)" font-family='"Liberation Sans", "DejaVu Sans", sans-serif' font-weight="bold" font-size="14.5" fill="#111" text-anchor="middle" textLength="66.3" lengthAdjust="spacingAndGlyphs">Flow (mW)</text>
<text x="657.1" y="281.8" font-family='"DejaVu Sans", "Liberation Sans", sans-serif' font-size="20" fill="#111" text-anchor="end">c)</text>
</svg>
</body>
</html>
